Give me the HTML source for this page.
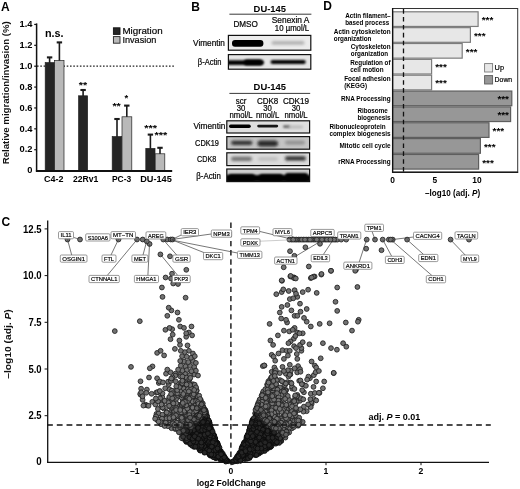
<!DOCTYPE html>
<html lang="en">
<head>
<meta charset="utf-8">
<title>Figure</title>
<style>
html,body{margin:0;padding:0;background:#fff;}
body{width:520px;height:489px;overflow:hidden;}
svg{display:block;font-family:"Liberation Sans", sans-serif;}
</style>
</head>
<body>
<svg width="520" height="489" viewBox="0 0 520 489">
<rect x="0" y="0" width="520" height="489" fill="#fff"/>
<g id="panelA">
<text x="1.0" y="10.7" font-size="12" font-weight="700">A</text>
<text transform="translate(8.9,92.8) rotate(-90)" font-size="9.6" font-weight="700" text-anchor="middle" textLength="143" lengthAdjust="spacingAndGlyphs" fill="#111">Relative migration/invasion (%)</text>
<line x1="37" y1="66.1" x2="175.5" y2="66.1" stroke="#222" stroke-width="1.1" stroke-dasharray="1.6 1.7"/>
<line x1="49.6" y1="63" x2="49.6" y2="57" stroke="#1a1a1a" stroke-width="1.6"/>
<line x1="46.9" y1="57.4" x2="52.300000000000004" y2="57.4" stroke="#1a1a1a" stroke-width="2.1"/>
<line x1="59.4" y1="61" x2="59.4" y2="42" stroke="#1a1a1a" stroke-width="1.6"/>
<line x1="56.699999999999996" y1="42.4" x2="62.1" y2="42.4" stroke="#1a1a1a" stroke-width="2.1"/>
<rect x="45.20" y="62.60" width="9.20" height="108.50" fill="#252525" stroke="#222" stroke-width="0.7"/>
<rect x="54.60" y="60.60" width="9.40" height="110.50" fill="#b9b9b9" stroke="#222" stroke-width="0.7"/>
<line x1="83.1" y1="96" x2="83.1" y2="89.6" stroke="#1a1a1a" stroke-width="1.6"/>
<line x1="80.39999999999999" y1="90.0" x2="85.8" y2="90.0" stroke="#1a1a1a" stroke-width="2.1"/>
<rect x="78.60" y="95.80" width="9.00" height="75.30" fill="#252525" stroke="#222" stroke-width="0.7"/>
<line x1="117.0" y1="137" x2="117.0" y2="118.6" stroke="#1a1a1a" stroke-width="1.6"/>
<line x1="114.3" y1="119.0" x2="119.7" y2="119.0" stroke="#1a1a1a" stroke-width="2.1"/>
<line x1="126.8" y1="117" x2="126.8" y2="105.2" stroke="#1a1a1a" stroke-width="1.6"/>
<line x1="124.1" y1="105.60000000000001" x2="129.5" y2="105.60000000000001" stroke="#1a1a1a" stroke-width="2.1"/>
<rect x="112.20" y="136.60" width="9.60" height="34.50" fill="#252525" stroke="#222" stroke-width="0.7"/>
<rect x="122.00" y="116.80" width="9.80" height="54.30" fill="#b9b9b9" stroke="#222" stroke-width="0.7"/>
<line x1="150.4" y1="149" x2="150.4" y2="134.2" stroke="#1a1a1a" stroke-width="1.6"/>
<line x1="147.70000000000002" y1="134.6" x2="153.1" y2="134.6" stroke="#1a1a1a" stroke-width="2.1"/>
<line x1="160.0" y1="154" x2="160.0" y2="147.4" stroke="#1a1a1a" stroke-width="1.6"/>
<line x1="157.3" y1="147.8" x2="162.7" y2="147.8" stroke="#1a1a1a" stroke-width="2.1"/>
<rect x="145.80" y="148.40" width="9.20" height="22.70" fill="#252525" stroke="#222" stroke-width="0.7"/>
<rect x="155.20" y="153.80" width="9.60" height="17.30" fill="#b9b9b9" stroke="#222" stroke-width="0.7"/>
<line x1="36.6" y1="23.4" x2="36.6" y2="171.6" stroke="#111" stroke-width="1.5"/>
<line x1="35.9" y1="171.0" x2="172.2" y2="171.0" stroke="#111" stroke-width="1.9"/>
<text x="32.5" y="173.3" font-size="9.3" font-weight="700" text-anchor="end">0</text>
<line x1="34.2" y1="149.72" x2="36.6" y2="149.72" stroke="#111" stroke-width="1.2"/>
<text x="32.5" y="152.42" font-size="9.3" font-weight="700" text-anchor="end">0.2</text>
<line x1="34.2" y1="128.84" x2="36.6" y2="128.84" stroke="#111" stroke-width="1.2"/>
<text x="32.5" y="131.54" font-size="9.3" font-weight="700" text-anchor="end">0.4</text>
<line x1="34.2" y1="107.95999999999998" x2="36.6" y2="107.95999999999998" stroke="#111" stroke-width="1.2"/>
<text x="32.5" y="110.66" font-size="9.3" font-weight="700" text-anchor="end">0.6</text>
<line x1="34.2" y1="87.08" x2="36.6" y2="87.08" stroke="#111" stroke-width="1.2"/>
<text x="32.5" y="89.78" font-size="9.3" font-weight="700" text-anchor="end">0.8</text>
<line x1="34.2" y1="66.2" x2="36.6" y2="66.2" stroke="#111" stroke-width="1.2"/>
<text x="32.5" y="68.9" font-size="9.3" font-weight="700" text-anchor="end">1.0</text>
<line x1="34.2" y1="45.31999999999998" x2="36.6" y2="45.31999999999998" stroke="#111" stroke-width="1.2"/>
<text x="32.5" y="48.02" font-size="9.3" font-weight="700" text-anchor="end">1.2</text>
<line x1="34.2" y1="24.439999999999998" x2="36.6" y2="24.439999999999998" stroke="#111" stroke-width="1.2"/>
<text x="32.5" y="27.14" font-size="9.3" font-weight="700" text-anchor="end">1.4</text>
<text x="54.2" y="36.6" font-size="10" font-weight="700" text-anchor="middle" textLength="18.6" lengthAdjust="spacingAndGlyphs">n.s.</text>
<text x="83.0" y="87.6" font-size="9.5" font-weight="700" text-anchor="middle" textLength="8.4" lengthAdjust="spacingAndGlyphs">**</text>
<text x="116.6" y="109.2" font-size="9.5" font-weight="700" text-anchor="middle" textLength="8.4" lengthAdjust="spacingAndGlyphs">**</text>
<text x="126.4" y="100.6" font-size="9.5" font-weight="700" text-anchor="middle">*</text>
<text x="150.6" y="131.4" font-size="9.5" font-weight="700" text-anchor="middle" textLength="12.8" lengthAdjust="spacingAndGlyphs">***</text>
<text x="161.0" y="138.4" font-size="9.5" font-weight="700" text-anchor="middle" textLength="12.8" lengthAdjust="spacingAndGlyphs">***</text>
<text x="53.8" y="182.2" font-size="9.2" font-weight="700" text-anchor="middle" textLength="19.4" lengthAdjust="spacingAndGlyphs">C4-2</text>
<text x="85.6" y="182.2" font-size="9.2" font-weight="700" text-anchor="middle" textLength="25.4" lengthAdjust="spacingAndGlyphs">22Rv1</text>
<text x="121.6" y="182.2" font-size="9.2" font-weight="700" text-anchor="middle" textLength="19.4" lengthAdjust="spacingAndGlyphs">PC-3</text>
<text x="156.0" y="182.2" font-size="9.2" font-weight="700" text-anchor="middle" textLength="31.6" lengthAdjust="spacingAndGlyphs">DU-145</text>
<rect x="113.40" y="27.80" width="6.60" height="6.60" fill="#252525" stroke="#111" stroke-width="0.9"/>
<rect x="113.40" y="36.60" width="6.60" height="6.60" fill="#b9b9b9" stroke="#222" stroke-width="0.9"/>
<text x="122.4" y="34.4" font-size="9.8" textLength="40.2" lengthAdjust="spacingAndGlyphs" stroke="#111" stroke-width="0.2">Migration</text>
<text x="122.4" y="43.2" font-size="9.8" textLength="34" lengthAdjust="spacingAndGlyphs" stroke="#111" stroke-width="0.2">Invasion</text>
</g>
<g id="panelB">
<defs><filter id="bl0" x="-20%" y="-80%" width="140%" height="260%"><feGaussianBlur stdDeviation="0.7"/></filter><filter id="bl1" x="-20%" y="-80%" width="140%" height="260%"><feGaussianBlur stdDeviation="0.9"/></filter><filter id="bl2" x="-20%" y="-80%" width="140%" height="260%"><feGaussianBlur stdDeviation="1.4"/></filter></defs>
<text x="191.3" y="11.3" font-size="12" font-weight="700">B</text>
<text x="269.8" y="12.2" font-size="9.4" font-weight="700" text-anchor="middle" textLength="32.4" lengthAdjust="spacingAndGlyphs">DU-145</text>
<line x1="229.4" y1="14.2" x2="311.4" y2="14.2" stroke="#222" stroke-width="0.9"/>
<text x="245.6" y="27.2" font-size="8.2" text-anchor="middle" textLength="24.4" lengthAdjust="spacingAndGlyphs" stroke="#111" stroke-width="0.22">DMSO</text>
<text x="290.6" y="22.8" font-size="8.2" text-anchor="middle" textLength="37.6" lengthAdjust="spacingAndGlyphs" stroke="#111" stroke-width="0.22">Senexin A</text>
<text x="292.0" y="31.0" font-size="8.2" text-anchor="middle" textLength="34.4" lengthAdjust="spacingAndGlyphs" stroke="#111" stroke-width="0.22">10 µmol/L</text>
<text x="209.0" y="46.4" font-size="8.2" text-anchor="middle" textLength="31.8" lengthAdjust="spacingAndGlyphs" stroke="#111" stroke-width="0.22">Vimentin</text>
<text x="209.6" y="65.0" font-size="8.2" text-anchor="middle" textLength="23.6" lengthAdjust="spacingAndGlyphs" stroke="#111" stroke-width="0.22">β-Actin</text>
<clipPath id="bc1"><rect x="228.4" y="35.4" width="82.40" height="14.80"/></clipPath>
<rect x="228.40" y="35.40" width="82.40" height="14.80" fill="#ececec"/>
<g clip-path="url(#bc1)">
<rect x="232.0" y="39.90" width="31.40" height="6.8" rx="3.00" fill="#060606" filter="url(#bl0)"/>
<rect x="271.5" y="41.20" width="33.00" height="3.4" rx="1.70" fill="#a8a8a8" filter="url(#bl2)"/>
</g>
<rect x="228.40" y="35.40" width="82.40" height="14.80" fill="none" stroke="#111" stroke-width="1.2"/>
<clipPath id="bc2"><rect x="228.4" y="54.6" width="82.40" height="14.60"/></clipPath>
<rect x="228.40" y="54.60" width="82.40" height="14.60" fill="#e6e6e6"/>
<g clip-path="url(#bc2)">
<rect x="226.0" y="60.30" width="38.00" height="4.6" rx="2.30" fill="#060606" filter="url(#bl1)"/>
<rect x="244.0" y="59.60" width="18.50" height="5.6" rx="2.80" fill="#060606" filter="url(#bl1)"/>
<rect x="270.5" y="59.90" width="35.30" height="4.2" rx="2.10" fill="#030303" filter="url(#bl1)"/>
</g>
<rect x="228.40" y="54.60" width="82.40" height="14.60" fill="none" stroke="#111" stroke-width="1.2"/>
<text x="269.8" y="89.8" font-size="9.4" font-weight="700" text-anchor="middle" textLength="32.4" lengthAdjust="spacingAndGlyphs">DU-145</text>
<line x1="229.4" y1="93.4" x2="310.2" y2="93.4" stroke="#222" stroke-width="0.9"/>
<text x="241.0" y="103.6" font-size="8.2" text-anchor="middle" textLength="10.6" lengthAdjust="spacingAndGlyphs" stroke="#111" stroke-width="0.22">scr</text>
<text x="241.0" y="110.9" font-size="8.2" text-anchor="middle" textLength="8.6" lengthAdjust="spacingAndGlyphs" stroke="#111" stroke-width="0.22">30</text>
<text x="241.0" y="118.0" font-size="8.2" text-anchor="middle" textLength="23.2" lengthAdjust="spacingAndGlyphs" stroke="#111" stroke-width="0.22">nmol/L</text>
<text x="267.6" y="103.6" font-size="8.2" text-anchor="middle" textLength="21.4" lengthAdjust="spacingAndGlyphs" stroke="#111" stroke-width="0.22">CDK8</text>
<text x="267.6" y="110.9" font-size="8.2" text-anchor="middle" textLength="8.6" lengthAdjust="spacingAndGlyphs" stroke="#111" stroke-width="0.22">30</text>
<text x="267.6" y="118.0" font-size="8.2" text-anchor="middle" textLength="23.2" lengthAdjust="spacingAndGlyphs" stroke="#111" stroke-width="0.22">nmol/L</text>
<text x="296.0" y="103.6" font-size="8.2" text-anchor="middle" textLength="26.2" lengthAdjust="spacingAndGlyphs" stroke="#111" stroke-width="0.22">CDK19</text>
<text x="296.0" y="110.9" font-size="8.2" text-anchor="middle" textLength="8.6" lengthAdjust="spacingAndGlyphs" stroke="#111" stroke-width="0.22">30</text>
<text x="296.0" y="118.0" font-size="8.2" text-anchor="middle" textLength="23.2" lengthAdjust="spacingAndGlyphs" stroke="#111" stroke-width="0.22">nmol/L</text>
<text x="209.4" y="129.4" font-size="8.2" text-anchor="middle" textLength="32.0" lengthAdjust="spacingAndGlyphs" stroke="#111" stroke-width="0.22">Vimentin</text>
<text x="207.0" y="145.6" font-size="8.2" text-anchor="middle" textLength="23.8" lengthAdjust="spacingAndGlyphs" stroke="#111" stroke-width="0.22">CDK19</text>
<text x="206.6" y="161.8" font-size="8.2" text-anchor="middle" textLength="19.2" lengthAdjust="spacingAndGlyphs" stroke="#111" stroke-width="0.22">CDK8</text>
<text x="208.6" y="178.6" font-size="8.2" text-anchor="middle" textLength="24.6" lengthAdjust="spacingAndGlyphs" stroke="#111" stroke-width="0.22">β-Actin</text>
<clipPath id="bc3"><rect x="226.8" y="120.8" width="82.80" height="12.20"/></clipPath>
<rect x="226.80" y="120.80" width="82.80" height="12.20" fill="#dedede"/>
<g clip-path="url(#bc3)">
<rect x="229.0" y="124.50" width="21.80" height="3.4" rx="1.70" fill="#050505" filter="url(#bl0)"/>
<rect x="257.2" y="124.65" width="21.00" height="2.9" rx="1.45" fill="#151515" filter="url(#bl0)"/>
<rect x="283.0" y="125.30" width="7.00" height="2.6" rx="1.30" fill="#666" filter="url(#bl1)"/>
<rect x="288.0" y="125.90" width="15.00" height="2.2" rx="1.10" fill="#aaa" filter="url(#bl2)"/>
</g>
<rect x="226.80" y="120.80" width="82.80" height="12.20" fill="none" stroke="#111" stroke-width="1.2"/>
<clipPath id="bc4"><rect x="226.8" y="136.6" width="82.80" height="12.60"/></clipPath>
<rect x="226.80" y="136.60" width="82.80" height="12.60" fill="#c4c4c4"/>
<g clip-path="url(#bc4)">
<rect x="231.0" y="140.70" width="21.50" height="4.2" rx="2.10" fill="#2b2b2b" filter="url(#bl2)"/>
<rect x="257.4" y="140.40" width="20.60" height="6.0" rx="3.00" fill="#262626" filter="url(#bl2)"/>
<rect x="285.0" y="140.80" width="20.00" height="3.6" rx="1.80" fill="#8e8e8e" filter="url(#bl2)"/>
</g>
<rect x="226.80" y="136.60" width="82.80" height="12.60" fill="none" stroke="#111" stroke-width="1.2"/>
<clipPath id="bc5"><rect x="226.8" y="152.8" width="82.80" height="12.80"/></clipPath>
<rect x="226.80" y="152.80" width="82.80" height="12.80" fill="#dcdcdc"/>
<g clip-path="url(#bc5)">
<rect x="231.0" y="156.80" width="21.00" height="4.2" rx="2.10" fill="#6e6e6e" filter="url(#bl2)"/>
<rect x="258.0" y="157.20" width="20.00" height="3.6" rx="1.80" fill="#bcbcbc" filter="url(#bl2)"/>
<rect x="285.0" y="156.20" width="21.00" height="4.4" rx="2.20" fill="#2c2c2c" filter="url(#bl2)"/>
</g>
<rect x="226.80" y="152.80" width="82.80" height="12.80" fill="none" stroke="#111" stroke-width="1.2"/>
<clipPath id="bc6"><rect x="226.8" y="169.0" width="82.80" height="12.60"/></clipPath>
<rect x="226.80" y="169.00" width="82.80" height="12.60" fill="#cdcdcd"/>
<g clip-path="url(#bc6)">
<rect x="222.0" y="175.10" width="92.00" height="7.0" rx="3.00" fill="#060606" filter="url(#bl1)"/>
<rect x="228.0" y="174.00" width="27.00" height="7.6" rx="3.00" fill="#060606" filter="url(#bl1)"/>
<rect x="259.0" y="174.00" width="24.00" height="7.6" rx="3.00" fill="#060606" filter="url(#bl1)"/>
<rect x="285.0" y="172.90" width="23.00" height="8.6" rx="3.00" fill="#060606" filter="url(#bl1)"/>
</g>
<rect x="226.80" y="169.00" width="82.80" height="12.60" fill="none" stroke="#111" stroke-width="1.2"/>
</g>
<g id="panelD">
<text x="323.3" y="10.3" font-size="12" font-weight="700">D</text>
<rect x="392.60" y="11.80" width="85.50" height="14.65" fill="#e7e7e7" stroke="#7c7c7c" stroke-width="1.2"/>
<text x="481.7" y="22.8" font-size="9.2" font-weight="700" textLength="11.6" lengthAdjust="spacingAndGlyphs">***</text>
<rect x="392.60" y="27.65" width="77.80" height="14.65" fill="#e7e7e7" stroke="#7c7c7c" stroke-width="1.2"/>
<text x="474.0" y="38.7" font-size="9.2" font-weight="700" textLength="11.6" lengthAdjust="spacingAndGlyphs">***</text>
<rect x="392.60" y="43.50" width="69.60" height="14.65" fill="#e7e7e7" stroke="#7c7c7c" stroke-width="1.2"/>
<text x="465.8" y="54.5" font-size="9.2" font-weight="700" textLength="11.6" lengthAdjust="spacingAndGlyphs">***</text>
<rect x="392.60" y="59.35" width="39.00" height="14.65" fill="#e7e7e7" stroke="#7c7c7c" stroke-width="1.2"/>
<text x="435.2" y="70.4" font-size="9.2" font-weight="700" textLength="11.6" lengthAdjust="spacingAndGlyphs">***</text>
<rect x="392.60" y="75.20" width="39.00" height="14.65" fill="#e7e7e7" stroke="#7c7c7c" stroke-width="1.2"/>
<text x="435.2" y="86.2" font-size="9.2" font-weight="700" textLength="11.6" lengthAdjust="spacingAndGlyphs">***</text>
<rect x="392.60" y="91.05" width="119.20" height="14.65" fill="#979797" stroke="#5e5e5e" stroke-width="1.2"/>
<text x="497.4" y="102.1" font-size="9.2" font-weight="700" textLength="11.6" lengthAdjust="spacingAndGlyphs">***</text>
<rect x="392.60" y="106.90" width="118.00" height="14.65" fill="#979797" stroke="#5e5e5e" stroke-width="1.2"/>
<text x="497.4" y="117.9" font-size="9.2" font-weight="700" textLength="11.6" lengthAdjust="spacingAndGlyphs">***</text>
<rect x="392.60" y="122.75" width="96.40" height="14.65" fill="#979797" stroke="#5e5e5e" stroke-width="1.2"/>
<text x="492.6" y="133.8" font-size="9.2" font-weight="700" textLength="11.6" lengthAdjust="spacingAndGlyphs">***</text>
<rect x="392.60" y="138.60" width="87.80" height="14.65" fill="#979797" stroke="#5e5e5e" stroke-width="1.2"/>
<text x="484.0" y="149.6" font-size="9.2" font-weight="700" textLength="11.6" lengthAdjust="spacingAndGlyphs">***</text>
<rect x="392.60" y="154.45" width="86.00" height="14.65" fill="#979797" stroke="#5e5e5e" stroke-width="1.2"/>
<text x="482.2" y="165.5" font-size="9.2" font-weight="700" textLength="11.6" lengthAdjust="spacingAndGlyphs">***</text>
<line x1="403.5" y1="9.1" x2="403.5" y2="172.0" stroke="#111" stroke-width="1.3" stroke-dasharray="4.6 3.3"/>
<rect x="392.60" y="8.50" width="125.10" height="163.50" fill="none" stroke="#333" stroke-width="1.0"/>
<line x1="392.6" y1="8.0" x2="392.6" y2="172.9" stroke="#111" stroke-width="1.3"/>
<line x1="392.0" y1="172.4" x2="518.2" y2="172.4" stroke="#1a1a1a" stroke-width="1.2"/>
<text x="392.6" y="183.4" font-size="8.4" font-weight="700" text-anchor="middle">0</text>
<text x="434.8" y="183.4" font-size="8.4" font-weight="700" text-anchor="middle">5</text>
<text x="476.9" y="183.4" font-size="8.4" font-weight="700" text-anchor="middle">10</text>
<text x="452.6" y="195.6" font-size="8.2" font-weight="700" text-anchor="middle" textLength="55" lengthAdjust="spacingAndGlyphs">–log10 (adj. <tspan font-style="italic">P</tspan>)</text>
<rect x="484.60" y="63.60" width="8.00" height="8.40" fill="#e7e7e7" stroke="#7a7a7a" stroke-width="0.9"/>
<rect x="484.60" y="75.60" width="8.00" height="8.40" fill="#979797" stroke="#5c5c5c" stroke-width="0.9"/>
<text x="494.6" y="69.9" font-size="7.4" fill="#000" stroke="#000" stroke-width="0.2">Up</text>
<text x="494.6" y="81.9" font-size="7.4" textLength="17.6" lengthAdjust="spacingAndGlyphs" fill="#000" stroke="#000" stroke-width="0.2">Down</text>
<text x="345.2" y="17.7" font-size="7.4" font-weight="700" textLength="45.4" lengthAdjust="spacingAndGlyphs">Actin filament–</text>
<text x="345.2" y="24.6" font-size="7.4" font-weight="700" textLength="44.0" lengthAdjust="spacingAndGlyphs">based process</text>
<text x="333.8" y="33.6" font-size="7.4" font-weight="700" textLength="56.8" lengthAdjust="spacingAndGlyphs">Actin cytoskeleton</text>
<text x="333.8" y="40.5" font-size="7.4" font-weight="700" textLength="37.6" lengthAdjust="spacingAndGlyphs">organization</text>
<text x="350.8" y="49.4" font-size="7.4" font-weight="700" textLength="39.8" lengthAdjust="spacingAndGlyphs">Cytoskeleton</text>
<text x="350.8" y="56.3" font-size="7.4" font-weight="700" textLength="37.4" lengthAdjust="spacingAndGlyphs">organization</text>
<text x="350.2" y="65.3" font-size="7.4" font-weight="700" textLength="40.4" lengthAdjust="spacingAndGlyphs">Regulation of</text>
<text x="350.2" y="72.2" font-size="7.4" font-weight="700" textLength="33.4" lengthAdjust="spacingAndGlyphs">cell motion</text>
<text x="344.2" y="81.1" font-size="7.4" font-weight="700" textLength="46.4" lengthAdjust="spacingAndGlyphs">Focal adhesion</text>
<text x="344.2" y="88.0" font-size="7.4" font-weight="700" textLength="22.8" lengthAdjust="spacingAndGlyphs">(KEGG)</text>
<text x="341.0" y="100.7" font-size="7.4" font-weight="700" textLength="49.6" lengthAdjust="spacingAndGlyphs">RNA Processing</text>
<text x="357.4" y="112.8" font-size="7.4" font-weight="700" textLength="30.4" lengthAdjust="spacingAndGlyphs">Ribosome</text>
<text x="357.4" y="119.7" font-size="7.4" font-weight="700" textLength="33.2" lengthAdjust="spacingAndGlyphs">biogenesis</text>
<text x="329.4" y="128.7" font-size="7.4" font-weight="700" textLength="56.2" lengthAdjust="spacingAndGlyphs">Ribonucleoprotein</text>
<text x="329.4" y="135.6" font-size="7.4" font-weight="700" textLength="61.2" lengthAdjust="spacingAndGlyphs">complex biogenesis</text>
<text x="339.4" y="148.2" font-size="7.4" font-weight="700" textLength="51.2" lengthAdjust="spacingAndGlyphs">Mitotic cell cycle</text>
<text x="338.2" y="164.1" font-size="7.4" font-weight="700" textLength="52.4" lengthAdjust="spacingAndGlyphs">rRNA Processing</text>
</g>
<g id="panelC">
<text x="1.5" y="226.4" font-size="12" font-weight="700">C</text>
<path d="M232.5 462.4 L244.7 460.4 L249.7 458.4 L253.6 456.4 L256.8 454.4 L259.7 452.4 L262.3 450.4 L264.7 448.4 L266.9 446.4 L269.0 444.4 L271.0 442.4 L272.9 440.4 L274.7 438.4 L276.4 436.4 L278.0 434.4 L279.6 432.4 L281.2 430.4 L282.7 428.4 L250.3 428.4 L249.6 430.4 L248.9 432.4 L248.1 434.4 L247.4 436.4 L246.6 438.4 L245.8 440.4 L244.9 442.4 L244.1 444.4 L243.2 446.4 L242.2 448.4 L241.2 450.4 L240.2 452.4 L239.0 454.4 L237.8 456.4 L236.4 458.4 L234.6 460.4 L231.5 462.4 Z" fill="#222"/>
<path d="M229.5 462.4 L217.8 460.4 L212.9 458.4 L209.2 456.4 L206.0 454.4 L203.2 452.4 L200.7 450.4 L198.4 448.4 L196.3 446.4 L194.3 444.4 L192.4 442.4 L190.5 440.4 L188.8 438.4 L187.2 436.4 L185.6 434.4 L184.0 432.4 L215.6 432.4 L216.2 434.4 L216.9 436.4 L217.6 438.4 L218.3 440.4 L219.0 442.4 L219.7 444.4 L220.5 446.4 L221.3 448.4 L222.2 450.4 L223.1 452.4 L224.0 454.4 L225.1 456.4 L226.3 458.4 L227.8 460.4 L230.5 462.4 Z" fill="#222"/>
<g fill="#262626" stroke="#0c0c0c" stroke-width="0.9"><circle cx="211.1" cy="445.0" r="2.4"/><circle cx="195.9" cy="440.8" r="2.4"/><circle cx="208.1" cy="428.2" r="2.4"/><circle cx="245.3" cy="458.7" r="2.4"/><circle cx="254.5" cy="423.8" r="2.4"/><circle cx="252.1" cy="424.0" r="2.4"/><circle cx="257.8" cy="432.2" r="2.4"/><circle cx="208.1" cy="431.1" r="2.4"/><circle cx="215.5" cy="440.9" r="2.4"/><circle cx="242.4" cy="446.5" r="2.4"/><circle cx="203.7" cy="437.5" r="2.4"/><circle cx="207.7" cy="446.5" r="2.4"/><circle cx="242.8" cy="448.7" r="2.4"/><circle cx="241.4" cy="454.3" r="2.4"/><circle cx="257.0" cy="433.5" r="2.4"/><circle cx="252.0" cy="443.2" r="2.4"/><circle cx="258.9" cy="435.5" r="2.4"/><circle cx="217.4" cy="443.0" r="2.4"/><circle cx="200.0" cy="449.3" r="2.4"/><circle cx="252.5" cy="452.2" r="2.4"/><circle cx="236.8" cy="458.7" r="2.4"/><circle cx="261.6" cy="449.0" r="2.4"/><circle cx="206.3" cy="438.1" r="2.4"/><circle cx="262.1" cy="439.2" r="2.4"/><circle cx="203.1" cy="423.8" r="2.4"/><circle cx="255.2" cy="445.7" r="2.4"/><circle cx="215.4" cy="440.4" r="2.4"/><circle cx="195.8" cy="444.7" r="2.4"/><circle cx="196.1" cy="434.3" r="2.4"/><circle cx="220.2" cy="452.8" r="2.4"/><circle cx="260.2" cy="421.2" r="2.4"/><circle cx="251.6" cy="444.4" r="2.4"/><circle cx="269.0" cy="432.2" r="2.4"/><circle cx="210.4" cy="426.0" r="2.4"/><circle cx="202.6" cy="425.6" r="2.4"/><circle cx="214.9" cy="438.2" r="2.4"/><circle cx="263.3" cy="450.3" r="2.4"/><circle cx="243.8" cy="444.2" r="2.4"/><circle cx="209.9" cy="426.3" r="2.4"/><circle cx="262.0" cy="437.1" r="2.4"/></g>
<g fill="#383838" stroke="#131313" stroke-width="0.9"><circle cx="200.4" cy="417.9" r="2.4"/><circle cx="272.9" cy="427.5" r="2.4"/><circle cx="183.7" cy="435.6" r="2.4"/><circle cx="206.7" cy="416.0" r="2.4"/><circle cx="257.4" cy="414.5" r="2.4"/><circle cx="184.7" cy="431.5" r="2.4"/><circle cx="273.8" cy="427.8" r="2.4"/><circle cx="190.2" cy="444.3" r="2.4"/><circle cx="187.5" cy="431.5" r="2.4"/><circle cx="262.4" cy="426.4" r="2.4"/><circle cx="257.5" cy="419.6" r="2.4"/><circle cx="199.5" cy="420.8" r="2.4"/><circle cx="256.3" cy="415.1" r="2.4"/><circle cx="185.9" cy="438.3" r="2.4"/><circle cx="262.5" cy="418.7" r="2.4"/><circle cx="281.7" cy="436.8" r="2.4"/><circle cx="196.9" cy="423.0" r="2.4"/><circle cx="255.1" cy="417.7" r="2.4"/><circle cx="188.5" cy="429.2" r="2.4"/><circle cx="196.8" cy="420.2" r="2.4"/><circle cx="199.1" cy="419.8" r="2.4"/><circle cx="277.5" cy="434.9" r="2.4"/><circle cx="280.5" cy="438.8" r="2.4"/><circle cx="270.5" cy="428.8" r="2.4"/><circle cx="192.5" cy="433.7" r="2.4"/><circle cx="266.0" cy="423.3" r="2.4"/><circle cx="184.6" cy="433.3" r="2.4"/><circle cx="192.6" cy="431.0" r="2.4"/><circle cx="186.7" cy="440.6" r="2.4"/><circle cx="202.5" cy="417.7" r="2.4"/><circle cx="192.5" cy="428.5" r="2.4"/><circle cx="184.0" cy="434.6" r="2.4"/><circle cx="203.7" cy="416.5" r="2.4"/><circle cx="264.8" cy="426.2" r="2.4"/><circle cx="188.5" cy="435.1" r="2.4"/><circle cx="268.0" cy="426.9" r="2.4"/><circle cx="197.0" cy="421.7" r="2.4"/><circle cx="263.8" cy="419.9" r="2.4"/><circle cx="280.9" cy="437.3" r="2.4"/><circle cx="268.0" cy="425.7" r="2.4"/></g>
<g fill="#4c4c4c" stroke="#191919" stroke-width="0.9"><circle cx="265.9" cy="422.3" r="2.4"/><circle cx="268.3" cy="424.5" r="2.4"/><circle cx="186.5" cy="442.0" r="2.4"/><circle cx="183.0" cy="438.7" r="2.4"/><circle cx="189.2" cy="426.1" r="2.4"/><circle cx="261.9" cy="417.4" r="2.4"/><circle cx="258.1" cy="414.9" r="2.4"/><circle cx="204.7" cy="409.5" r="2.4"/><circle cx="200.4" cy="415.2" r="2.4"/><circle cx="275.6" cy="430.5" r="2.4"/><circle cx="257.5" cy="410.8" r="2.4"/><circle cx="201.2" cy="408.6" r="2.4"/><circle cx="261.0" cy="413.7" r="2.4"/><circle cx="264.8" cy="422.9" r="2.4"/><circle cx="191.6" cy="419.3" r="2.4"/><circle cx="281.8" cy="436.5" r="2.4"/><circle cx="258.4" cy="413.3" r="2.4"/><circle cx="198.9" cy="414.5" r="2.4"/><circle cx="185.7" cy="431.1" r="2.4"/><circle cx="182.2" cy="435.9" r="2.4"/><circle cx="261.5" cy="416.0" r="2.4"/><circle cx="261.1" cy="416.9" r="2.4"/><circle cx="203.4" cy="416.2" r="2.4"/><circle cx="262.5" cy="419.2" r="2.4"/><circle cx="257.0" cy="416.0" r="2.4"/><circle cx="197.2" cy="421.1" r="2.4"/><circle cx="204.0" cy="409.4" r="2.4"/><circle cx="202.5" cy="413.0" r="2.4"/><circle cx="257.0" cy="414.0" r="2.4"/><circle cx="192.7" cy="425.1" r="2.4"/><circle cx="255.1" cy="413.3" r="2.4"/><circle cx="202.1" cy="409.7" r="2.4"/><circle cx="203.9" cy="415.1" r="2.4"/><circle cx="259.6" cy="409.6" r="2.4"/><circle cx="261.7" cy="413.8" r="2.4"/><circle cx="261.3" cy="413.9" r="2.4"/><circle cx="201.0" cy="416.9" r="2.4"/><circle cx="262.3" cy="416.3" r="2.4"/><circle cx="200.4" cy="414.1" r="2.4"/><circle cx="183.7" cy="434.9" r="2.4"/></g>
<g fill="#727272" stroke="#242424" stroke-width="0.9"><circle cx="189.3" cy="380.0" r="2.4"/><circle cx="200.5" cy="407.9" r="2.4"/><circle cx="343.1" cy="343.2" r="2.4"/><circle cx="274.4" cy="367.5" r="2.4"/><circle cx="173.5" cy="404.2" r="2.4"/><circle cx="194.2" cy="374.5" r="2.4"/><circle cx="167.1" cy="239.5" r="2.4"/><circle cx="450.6" cy="239.6" r="2.4"/><circle cx="180.5" cy="382.9" r="2.4"/><circle cx="185.0" cy="418.0" r="2.4"/><circle cx="168.7" cy="384.2" r="2.4"/><circle cx="325.4" cy="239.6" r="2.4"/><circle cx="196.3" cy="402.3" r="2.4"/><circle cx="162.9" cy="402.7" r="2.4"/><circle cx="177.8" cy="412.8" r="2.4"/><circle cx="160.5" cy="419.2" r="2.4"/><circle cx="186.6" cy="418.3" r="2.4"/><circle cx="266.5" cy="401.9" r="2.4"/><circle cx="276.7" cy="424.4" r="2.4"/><circle cx="146.9" cy="389.6" r="2.4"/><circle cx="198.3" cy="406.3" r="2.4"/><circle cx="191.6" cy="409.2" r="2.4"/><circle cx="145.4" cy="404.7" r="2.4"/><circle cx="195.7" cy="398.2" r="2.4"/><circle cx="192.9" cy="384.2" r="2.4"/><circle cx="273.9" cy="406.3" r="2.4"/><circle cx="268.5" cy="417.4" r="2.4"/><circle cx="469.0" cy="239.6" r="2.4"/><circle cx="291.9" cy="428.4" r="2.4"/><circle cx="264.8" cy="412.0" r="2.4"/><circle cx="189.4" cy="386.4" r="2.4"/><circle cx="191.0" cy="417.6" r="2.4"/><circle cx="178.7" cy="404.7" r="2.4"/><circle cx="201.3" cy="403.5" r="2.4"/><circle cx="302.7" cy="421.9" r="2.4"/><circle cx="156.5" cy="400.9" r="2.4"/><circle cx="288.0" cy="420.9" r="2.4"/><circle cx="189.0" cy="388.0" r="2.4"/><circle cx="172.5" cy="423.7" r="2.4"/><circle cx="176.8" cy="409.7" r="2.4"/></g>
<g fill="#262626" stroke="#0c0c0c" stroke-width="0.9"><circle cx="211.7" cy="433.2" r="2.4"/><circle cx="211.1" cy="433.8" r="2.4"/><circle cx="251.7" cy="441.4" r="2.4"/><circle cx="249.8" cy="435.9" r="2.4"/><circle cx="246.0" cy="440.8" r="2.4"/><circle cx="237.7" cy="457.8" r="2.4"/><circle cx="253.2" cy="444.6" r="2.4"/><circle cx="216.9" cy="453.1" r="2.4"/><circle cx="243.7" cy="455.7" r="2.4"/><circle cx="224.2" cy="457.6" r="2.4"/><circle cx="248.3" cy="440.6" r="2.4"/><circle cx="209.7" cy="434.3" r="2.4"/><circle cx="249.9" cy="443.4" r="2.4"/><circle cx="270.5" cy="433.3" r="2.4"/><circle cx="207.2" cy="423.2" r="2.4"/><circle cx="272.9" cy="433.6" r="2.4"/><circle cx="214.7" cy="440.7" r="2.4"/><circle cx="249.4" cy="439.8" r="2.4"/><circle cx="207.8" cy="445.2" r="2.4"/><circle cx="267.4" cy="431.1" r="2.4"/><circle cx="256.8" cy="429.3" r="2.4"/><circle cx="238.9" cy="457.3" r="2.4"/><circle cx="212.2" cy="445.0" r="2.4"/><circle cx="254.0" cy="424.3" r="2.4"/><circle cx="218.1" cy="457.3" r="2.4"/><circle cx="270.0" cy="446.8" r="2.4"/><circle cx="208.6" cy="424.7" r="2.4"/><circle cx="254.5" cy="437.3" r="2.4"/><circle cx="252.4" cy="442.4" r="2.4"/><circle cx="197.3" cy="431.4" r="2.4"/><circle cx="206.9" cy="447.9" r="2.4"/><circle cx="224.6" cy="457.7" r="2.4"/><circle cx="193.3" cy="432.8" r="2.4"/><circle cx="249.6" cy="441.8" r="2.4"/><circle cx="249.3" cy="440.0" r="2.4"/><circle cx="270.4" cy="447.2" r="2.4"/><circle cx="251.2" cy="450.5" r="2.4"/><circle cx="207.5" cy="424.5" r="2.4"/><circle cx="199.6" cy="441.3" r="2.4"/><circle cx="207.4" cy="419.1" r="2.4"/></g>
<g fill="#262626" stroke="#0c0c0c" stroke-width="0.9"><circle cx="211.2" cy="436.2" r="2.4"/><circle cx="247.9" cy="435.1" r="2.4"/><circle cx="240.8" cy="453.5" r="2.4"/><circle cx="273.4" cy="434.1" r="2.4"/><circle cx="193.4" cy="427.7" r="2.4"/><circle cx="255.0" cy="430.3" r="2.4"/><circle cx="252.1" cy="437.4" r="2.4"/><circle cx="219.3" cy="453.4" r="2.4"/><circle cx="208.7" cy="449.2" r="2.4"/><circle cx="259.6" cy="423.3" r="2.4"/><circle cx="251.3" cy="425.3" r="2.4"/><circle cx="269.0" cy="446.5" r="2.4"/><circle cx="270.8" cy="432.5" r="2.4"/><circle cx="244.5" cy="443.1" r="2.4"/><circle cx="206.5" cy="414.8" r="2.4"/><circle cx="244.6" cy="459.0" r="2.4"/><circle cx="205.8" cy="428.3" r="2.4"/><circle cx="215.5" cy="451.4" r="2.4"/><circle cx="243.8" cy="450.2" r="2.4"/><circle cx="257.9" cy="422.8" r="2.4"/><circle cx="208.6" cy="451.0" r="2.4"/><circle cx="246.7" cy="446.5" r="2.4"/><circle cx="206.3" cy="451.1" r="2.4"/><circle cx="259.8" cy="449.7" r="2.4"/><circle cx="199.6" cy="449.8" r="2.4"/><circle cx="222.9" cy="459.9" r="2.4"/><circle cx="258.9" cy="453.7" r="2.4"/><circle cx="262.1" cy="427.4" r="2.4"/><circle cx="246.0" cy="446.2" r="2.4"/><circle cx="261.9" cy="437.6" r="2.4"/></g>
<g fill="#262626" stroke="#0c0c0c" stroke-width="0.9"><circle cx="271.4" cy="431.3" r="2.4"/><circle cx="206.3" cy="419.2" r="2.4"/><circle cx="240.5" cy="455.7" r="2.4"/><circle cx="245.5" cy="456.9" r="2.4"/><circle cx="251.5" cy="446.7" r="2.4"/><circle cx="252.5" cy="423.0" r="2.4"/><circle cx="217.3" cy="453.1" r="2.4"/><circle cx="201.9" cy="434.3" r="2.4"/><circle cx="253.5" cy="433.9" r="2.4"/><circle cx="254.9" cy="443.8" r="2.4"/><circle cx="223.5" cy="456.8" r="2.4"/><circle cx="270.7" cy="432.1" r="2.4"/><circle cx="193.4" cy="433.5" r="2.4"/><circle cx="271.6" cy="446.0" r="2.4"/><circle cx="218.4" cy="448.7" r="2.4"/><circle cx="214.2" cy="435.3" r="2.4"/><circle cx="213.5" cy="446.3" r="2.4"/><circle cx="200.5" cy="450.3" r="2.4"/><circle cx="212.5" cy="434.6" r="2.4"/><circle cx="250.1" cy="428.8" r="2.4"/><circle cx="209.0" cy="433.1" r="2.4"/><circle cx="194.3" cy="440.5" r="2.4"/><circle cx="216.1" cy="446.4" r="2.4"/><circle cx="256.8" cy="424.7" r="2.4"/><circle cx="212.3" cy="451.7" r="2.4"/><circle cx="247.9" cy="444.4" r="2.4"/><circle cx="190.7" cy="430.5" r="2.4"/><circle cx="246.6" cy="437.4" r="2.4"/><circle cx="198.0" cy="439.8" r="2.4"/><circle cx="252.3" cy="448.1" r="2.4"/><circle cx="260.2" cy="434.2" r="2.4"/><circle cx="254.6" cy="447.3" r="2.4"/><circle cx="247.9" cy="444.1" r="2.4"/><circle cx="206.2" cy="444.5" r="2.4"/><circle cx="261.2" cy="444.3" r="2.4"/><circle cx="263.7" cy="424.8" r="2.4"/><circle cx="249.7" cy="445.4" r="2.4"/><circle cx="267.0" cy="443.8" r="2.4"/><circle cx="208.1" cy="431.7" r="2.4"/><circle cx="213.1" cy="439.9" r="2.4"/></g>
<g fill="#727272" stroke="#242424" stroke-width="0.9"><circle cx="279.2" cy="403.2" r="2.4"/><circle cx="266.6" cy="412.4" r="2.4"/><circle cx="286.1" cy="414.8" r="2.4"/><circle cx="293.5" cy="425.3" r="2.4"/><circle cx="170.0" cy="256.3" r="2.4"/><circle cx="192.9" cy="400.5" r="2.4"/><circle cx="287.0" cy="404.9" r="2.4"/><circle cx="273.4" cy="372.2" r="2.4"/><circle cx="192.8" cy="412.6" r="2.4"/><circle cx="194.6" cy="394.8" r="2.4"/><circle cx="314.6" cy="276.5" r="2.4"/><circle cx="273.7" cy="401.9" r="2.4"/><circle cx="194.0" cy="407.4" r="2.4"/><circle cx="298.7" cy="410.1" r="2.4"/><circle cx="291.8" cy="418.4" r="2.4"/><circle cx="266.4" cy="402.8" r="2.4"/><circle cx="310.8" cy="393.7" r="2.4"/><circle cx="273.7" cy="420.8" r="2.4"/><circle cx="178.1" cy="406.2" r="2.4"/><circle cx="156.5" cy="413.9" r="2.4"/><circle cx="188.9" cy="332.5" r="2.4"/><circle cx="268.5" cy="416.4" r="2.4"/><circle cx="272.3" cy="405.5" r="2.4"/><circle cx="289.2" cy="427.9" r="2.4"/><circle cx="198.9" cy="405.5" r="2.4"/><circle cx="185.6" cy="366.4" r="2.4"/><circle cx="298.4" cy="239.6" r="2.4"/><circle cx="322.9" cy="388.3" r="2.4"/><circle cx="297.2" cy="372.4" r="2.4"/><circle cx="152.5" cy="366.4" r="2.4"/><circle cx="276.3" cy="413.1" r="2.4"/><circle cx="190.2" cy="365.9" r="2.4"/><circle cx="279.9" cy="400.7" r="2.4"/><circle cx="191.8" cy="408.5" r="2.4"/><circle cx="269.0" cy="394.5" r="2.4"/><circle cx="320.2" cy="239.6" r="2.4"/><circle cx="290.4" cy="374.4" r="2.4"/><circle cx="281.7" cy="292.1" r="2.4"/><circle cx="187.7" cy="395.6" r="2.4"/><circle cx="161.2" cy="406.7" r="2.4"/></g>
<g fill="#383838" stroke="#131313" stroke-width="0.9"><circle cx="205.5" cy="420.1" r="2.4"/><circle cx="204.0" cy="417.0" r="2.4"/><circle cx="262.2" cy="421.8" r="2.4"/><circle cx="259.9" cy="419.8" r="2.4"/><circle cx="205.6" cy="415.9" r="2.4"/><circle cx="256.5" cy="410.9" r="2.4"/><circle cx="200.6" cy="412.5" r="2.4"/><circle cx="205.2" cy="413.1" r="2.4"/><circle cx="197.1" cy="418.7" r="2.4"/><circle cx="195.2" cy="427.2" r="2.4"/><circle cx="270.4" cy="429.4" r="2.4"/><circle cx="204.3" cy="414.1" r="2.4"/></g>
<g fill="#727272" stroke="#242424" stroke-width="0.9"><circle cx="157.3" cy="420.2" r="2.4"/><circle cx="293.3" cy="403.5" r="2.4"/><circle cx="183.8" cy="379.9" r="2.4"/><circle cx="275.3" cy="406.0" r="2.4"/><circle cx="306.8" cy="239.6" r="2.4"/><circle cx="171.5" cy="408.9" r="2.4"/><circle cx="67.5" cy="239.5" r="2.4"/><circle cx="174.8" cy="423.8" r="2.4"/><circle cx="186.9" cy="400.9" r="2.4"/><circle cx="172.6" cy="425.5" r="2.4"/><circle cx="283.3" cy="289.4" r="2.4"/><circle cx="302.7" cy="333.3" r="2.4"/><circle cx="306.7" cy="411.2" r="2.4"/><circle cx="171.0" cy="420.6" r="2.4"/><circle cx="283.5" cy="412.3" r="2.4"/><circle cx="272.0" cy="406.5" r="2.4"/><circle cx="308.8" cy="266.5" r="2.4"/><circle cx="158.8" cy="383.0" r="2.4"/><circle cx="300.0" cy="303.7" r="2.4"/><circle cx="192.9" cy="361.0" r="2.4"/><circle cx="270.3" cy="407.1" r="2.4"/><circle cx="273.1" cy="398.1" r="2.4"/><circle cx="195.9" cy="388.1" r="2.4"/><circle cx="265.0" cy="397.0" r="2.4"/><circle cx="288.7" cy="291.0" r="2.4"/><circle cx="185.6" cy="389.6" r="2.4"/><circle cx="282.1" cy="406.2" r="2.4"/><circle cx="198.7" cy="406.2" r="2.4"/><circle cx="313.4" cy="239.6" r="2.4"/><circle cx="184.0" cy="410.3" r="2.4"/><circle cx="186.4" cy="412.7" r="2.4"/><circle cx="196.9" cy="414.7" r="2.4"/><circle cx="165.2" cy="388.3" r="2.4"/><circle cx="281.1" cy="391.0" r="2.4"/><circle cx="199.9" cy="406.3" r="2.4"/><circle cx="140.6" cy="394.7" r="2.4"/><circle cx="267.9" cy="388.1" r="2.4"/><circle cx="186.2" cy="391.4" r="2.4"/><circle cx="266.0" cy="412.6" r="2.4"/><circle cx="294.2" cy="277.5" r="2.4"/></g>
<g fill="#262626" stroke="#0c0c0c" stroke-width="0.9"><circle cx="241.4" cy="448.8" r="2.4"/><circle cx="209.5" cy="422.4" r="2.4"/><circle cx="257.1" cy="430.8" r="2.4"/><circle cx="251.3" cy="433.2" r="2.4"/><circle cx="275.8" cy="440.4" r="2.4"/><circle cx="193.9" cy="436.5" r="2.4"/><circle cx="228.3" cy="461.2" r="2.4"/><circle cx="207.9" cy="432.2" r="2.4"/><circle cx="214.8" cy="439.2" r="2.4"/><circle cx="216.1" cy="443.5" r="2.4"/><circle cx="206.6" cy="428.5" r="2.4"/><circle cx="209.2" cy="448.6" r="2.4"/><circle cx="214.4" cy="443.2" r="2.4"/><circle cx="254.7" cy="445.2" r="2.4"/><circle cx="257.1" cy="423.8" r="2.4"/><circle cx="211.9" cy="432.7" r="2.4"/><circle cx="206.4" cy="430.9" r="2.4"/><circle cx="248.5" cy="446.5" r="2.4"/><circle cx="256.4" cy="447.9" r="2.4"/><circle cx="259.6" cy="444.0" r="2.4"/><circle cx="213.0" cy="439.8" r="2.4"/><circle cx="217.3" cy="452.7" r="2.4"/><circle cx="247.0" cy="438.7" r="2.4"/><circle cx="210.2" cy="430.9" r="2.4"/><circle cx="263.5" cy="437.7" r="2.4"/><circle cx="255.1" cy="420.3" r="2.4"/><circle cx="201.6" cy="445.2" r="2.4"/><circle cx="269.9" cy="444.7" r="2.4"/><circle cx="254.4" cy="431.2" r="2.4"/><circle cx="248.0" cy="443.9" r="2.4"/><circle cx="270.5" cy="430.1" r="2.4"/><circle cx="199.0" cy="431.5" r="2.4"/><circle cx="214.2" cy="438.3" r="2.4"/><circle cx="209.2" cy="422.1" r="2.4"/><circle cx="273.6" cy="432.5" r="2.4"/><circle cx="253.9" cy="444.3" r="2.4"/><circle cx="206.0" cy="444.5" r="2.4"/><circle cx="253.6" cy="428.9" r="2.4"/><circle cx="248.1" cy="449.7" r="2.4"/><circle cx="217.1" cy="443.0" r="2.4"/></g>
<g fill="#262626" stroke="#0c0c0c" stroke-width="0.9"><circle cx="277.7" cy="439.7" r="2.4"/><circle cx="241.6" cy="450.4" r="2.4"/><circle cx="208.1" cy="421.2" r="2.4"/><circle cx="196.7" cy="446.0" r="2.4"/><circle cx="246.7" cy="441.2" r="2.4"/><circle cx="260.7" cy="450.2" r="2.4"/><circle cx="235.8" cy="460.3" r="2.4"/><circle cx="248.7" cy="440.9" r="2.4"/><circle cx="255.8" cy="421.8" r="2.4"/><circle cx="251.8" cy="428.1" r="2.4"/><circle cx="252.3" cy="423.5" r="2.4"/><circle cx="213.6" cy="436.5" r="2.4"/><circle cx="266.9" cy="446.5" r="2.4"/><circle cx="240.8" cy="455.0" r="2.4"/><circle cx="206.5" cy="421.3" r="2.4"/><circle cx="213.6" cy="448.1" r="2.4"/><circle cx="209.6" cy="435.4" r="2.4"/><circle cx="194.9" cy="435.5" r="2.4"/><circle cx="190.4" cy="432.2" r="2.4"/><circle cx="217.6" cy="443.5" r="2.4"/><circle cx="268.9" cy="428.4" r="2.4"/><circle cx="241.9" cy="450.8" r="2.4"/><circle cx="206.5" cy="423.8" r="2.4"/><circle cx="208.0" cy="436.1" r="2.4"/><circle cx="260.6" cy="441.6" r="2.4"/><circle cx="212.1" cy="439.0" r="2.4"/><circle cx="259.6" cy="433.3" r="2.4"/><circle cx="246.2" cy="452.4" r="2.4"/><circle cx="210.6" cy="454.8" r="2.4"/><circle cx="267.2" cy="429.1" r="2.4"/><circle cx="260.6" cy="425.2" r="2.4"/><circle cx="209.4" cy="434.5" r="2.4"/><circle cx="216.0" cy="457.8" r="2.4"/><circle cx="196.7" cy="434.8" r="2.4"/><circle cx="211.9" cy="454.3" r="2.4"/><circle cx="253.5" cy="448.6" r="2.4"/><circle cx="189.6" cy="432.8" r="2.4"/><circle cx="248.7" cy="453.3" r="2.4"/><circle cx="248.2" cy="452.1" r="2.4"/><circle cx="257.5" cy="430.9" r="2.4"/></g>
<g fill="#727272" stroke="#242424" stroke-width="0.9"><circle cx="152.3" cy="401.8" r="2.4"/><circle cx="263.3" cy="395.8" r="2.4"/><circle cx="188.2" cy="414.7" r="2.4"/><circle cx="276.9" cy="408.5" r="2.4"/><circle cx="168.7" cy="422.6" r="2.4"/><circle cx="118.5" cy="239.5" r="2.4"/><circle cx="197.8" cy="410.7" r="2.4"/><circle cx="169.4" cy="417.0" r="2.4"/><circle cx="312.1" cy="400.4" r="2.4"/><circle cx="407.1" cy="239.6" r="2.4"/><circle cx="186.2" cy="387.9" r="2.4"/><circle cx="264.3" cy="394.7" r="2.4"/><circle cx="264.2" cy="396.5" r="2.4"/><circle cx="290.8" cy="370.8" r="2.4"/><circle cx="189.0" cy="391.9" r="2.4"/><circle cx="272.4" cy="416.9" r="2.4"/><circle cx="191.9" cy="394.9" r="2.4"/><circle cx="272.8" cy="375.9" r="2.4"/><circle cx="171.5" cy="428.2" r="2.4"/><circle cx="184.2" cy="400.3" r="2.4"/><circle cx="279.3" cy="426.0" r="2.4"/><circle cx="293.5" cy="421.2" r="2.4"/><circle cx="182.6" cy="400.4" r="2.4"/><circle cx="198.3" cy="397.7" r="2.4"/><circle cx="273.9" cy="404.2" r="2.4"/><circle cx="282.4" cy="389.0" r="2.4"/><circle cx="189.5" cy="391.8" r="2.4"/><circle cx="275.9" cy="383.9" r="2.4"/><circle cx="271.7" cy="354.8" r="2.4"/><circle cx="277.7" cy="407.7" r="2.4"/><circle cx="278.2" cy="423.0" r="2.4"/><circle cx="172.1" cy="417.2" r="2.4"/><circle cx="163.6" cy="408.4" r="2.4"/><circle cx="303.9" cy="392.3" r="2.4"/><circle cx="182.8" cy="396.4" r="2.4"/><circle cx="284.8" cy="427.2" r="2.4"/><circle cx="260.6" cy="411.1" r="2.4"/><circle cx="190.9" cy="400.7" r="2.4"/><circle cx="303.4" cy="411.6" r="2.4"/><circle cx="274.7" cy="408.0" r="2.4"/></g>
<g fill="#727272" stroke="#242424" stroke-width="0.9"><circle cx="269.6" cy="386.7" r="2.4"/><circle cx="174.4" cy="421.3" r="2.4"/><circle cx="267.9" cy="397.4" r="2.4"/><circle cx="183.8" cy="408.2" r="2.4"/><circle cx="189.0" cy="399.0" r="2.4"/><circle cx="195.7" cy="404.0" r="2.4"/><circle cx="161.7" cy="399.6" r="2.4"/><circle cx="198.0" cy="396.5" r="2.4"/><circle cx="287.5" cy="409.5" r="2.4"/><circle cx="190.0" cy="392.2" r="2.4"/><circle cx="194.2" cy="366.9" r="2.4"/><circle cx="291.5" cy="239.6" r="2.4"/><circle cx="200.8" cy="400.0" r="2.4"/><circle cx="184.4" cy="386.6" r="2.4"/><circle cx="308.4" cy="239.6" r="2.4"/><circle cx="172.7" cy="334.6" r="2.4"/><circle cx="285.9" cy="419.0" r="2.4"/><circle cx="320.0" cy="243.8" r="2.4"/><circle cx="352.0" cy="330.6" r="2.4"/><circle cx="187.0" cy="419.0" r="2.4"/><circle cx="183.7" cy="423.8" r="2.4"/><circle cx="198.4" cy="408.6" r="2.4"/><circle cx="382.7" cy="239.6" r="2.4"/><circle cx="172.6" cy="396.9" r="2.4"/><circle cx="323.6" cy="239.6" r="2.4"/><circle cx="177.8" cy="427.7" r="2.4"/><circle cx="268.2" cy="407.9" r="2.4"/><circle cx="293.8" cy="338.7" r="2.4"/><circle cx="274.8" cy="409.0" r="2.4"/><circle cx="176.7" cy="409.8" r="2.4"/><circle cx="285.8" cy="373.7" r="2.4"/><circle cx="155.4" cy="404.5" r="2.4"/><circle cx="332.2" cy="239.6" r="2.4"/><circle cx="166.5" cy="407.2" r="2.4"/><circle cx="309.9" cy="378.2" r="2.4"/><circle cx="182.8" cy="402.4" r="2.4"/><circle cx="189.1" cy="386.0" r="2.4"/><circle cx="168.1" cy="381.7" r="2.4"/><circle cx="190.7" cy="399.1" r="2.4"/><circle cx="269.7" cy="404.8" r="2.4"/></g>
<g fill="#262626" stroke="#0c0c0c" stroke-width="0.9"><circle cx="238.2" cy="455.1" r="2.4"/><circle cx="251.3" cy="431.0" r="2.4"/><circle cx="255.6" cy="429.1" r="2.4"/><circle cx="197.0" cy="434.9" r="2.4"/><circle cx="209.3" cy="451.0" r="2.4"/><circle cx="205.8" cy="429.5" r="2.4"/><circle cx="266.5" cy="442.1" r="2.4"/><circle cx="251.6" cy="447.6" r="2.4"/><circle cx="259.1" cy="431.6" r="2.4"/><circle cx="216.3" cy="442.8" r="2.4"/><circle cx="216.4" cy="445.5" r="2.4"/><circle cx="220.8" cy="451.6" r="2.4"/><circle cx="251.5" cy="447.2" r="2.4"/><circle cx="261.1" cy="426.6" r="2.4"/><circle cx="211.2" cy="447.2" r="2.4"/><circle cx="269.2" cy="445.9" r="2.4"/><circle cx="244.3" cy="447.8" r="2.4"/><circle cx="248.0" cy="442.0" r="2.4"/><circle cx="256.2" cy="451.5" r="2.4"/><circle cx="256.3" cy="454.7" r="2.4"/><circle cx="215.6" cy="447.4" r="2.4"/><circle cx="242.3" cy="458.1" r="2.4"/><circle cx="275.9" cy="439.4" r="2.4"/><circle cx="219.3" cy="449.8" r="2.4"/><circle cx="208.6" cy="429.7" r="2.4"/><circle cx="247.0" cy="458.8" r="2.4"/><circle cx="200.2" cy="436.6" r="2.4"/><circle cx="205.1" cy="435.9" r="2.4"/><circle cx="215.7" cy="443.1" r="2.4"/><circle cx="203.3" cy="448.1" r="2.4"/><circle cx="258.6" cy="441.7" r="2.4"/><circle cx="199.3" cy="432.8" r="2.4"/><circle cx="273.2" cy="441.4" r="2.4"/><circle cx="256.7" cy="453.0" r="2.4"/><circle cx="206.8" cy="419.6" r="2.4"/><circle cx="204.6" cy="427.4" r="2.4"/><circle cx="211.7" cy="448.6" r="2.4"/><circle cx="257.9" cy="420.4" r="2.4"/><circle cx="196.1" cy="433.6" r="2.4"/><circle cx="251.8" cy="424.8" r="2.4"/></g>
<g fill="#4c4c4c" stroke="#191919" stroke-width="0.9"><circle cx="268.6" cy="421.6" r="2.4"/><circle cx="275.9" cy="429.4" r="2.4"/><circle cx="199.6" cy="420.7" r="2.4"/><circle cx="271.9" cy="426.4" r="2.4"/><circle cx="200.3" cy="418.6" r="2.4"/><circle cx="199.6" cy="416.9" r="2.4"/></g>
<g fill="#262626" stroke="#0c0c0c" stroke-width="0.9"><circle cx="210.5" cy="448.3" r="2.4"/><circle cx="205.7" cy="431.8" r="2.4"/><circle cx="220.9" cy="452.6" r="2.4"/><circle cx="251.8" cy="447.7" r="2.4"/><circle cx="209.3" cy="422.2" r="2.4"/><circle cx="250.0" cy="427.6" r="2.4"/><circle cx="238.2" cy="460.4" r="2.4"/><circle cx="244.7" cy="444.1" r="2.4"/><circle cx="200.3" cy="427.2" r="2.4"/><circle cx="267.2" cy="448.9" r="2.4"/><circle cx="205.2" cy="444.1" r="2.4"/><circle cx="257.9" cy="436.3" r="2.4"/><circle cx="259.1" cy="440.1" r="2.4"/><circle cx="200.7" cy="429.2" r="2.4"/><circle cx="252.6" cy="443.0" r="2.4"/><circle cx="216.7" cy="443.1" r="2.4"/><circle cx="214.8" cy="445.4" r="2.4"/><circle cx="241.5" cy="459.3" r="2.4"/><circle cx="210.6" cy="441.6" r="2.4"/><circle cx="208.4" cy="426.8" r="2.4"/><circle cx="250.1" cy="430.2" r="2.4"/><circle cx="196.0" cy="428.4" r="2.4"/><circle cx="220.3" cy="459.3" r="2.4"/><circle cx="215.2" cy="438.7" r="2.4"/><circle cx="203.3" cy="441.1" r="2.4"/><circle cx="254.9" cy="423.7" r="2.4"/><circle cx="270.9" cy="437.2" r="2.4"/><circle cx="206.9" cy="438.9" r="2.4"/><circle cx="212.9" cy="446.8" r="2.4"/><circle cx="204.6" cy="427.2" r="2.4"/><circle cx="197.2" cy="424.0" r="2.4"/><circle cx="204.6" cy="428.2" r="2.4"/><circle cx="199.5" cy="443.4" r="2.4"/><circle cx="202.9" cy="448.3" r="2.4"/><circle cx="202.0" cy="421.0" r="2.4"/><circle cx="212.0" cy="434.1" r="2.4"/><circle cx="252.0" cy="421.9" r="2.4"/><circle cx="213.4" cy="454.2" r="2.4"/><circle cx="237.0" cy="456.7" r="2.4"/><circle cx="245.5" cy="450.1" r="2.4"/></g>
<g fill="#727272" stroke="#242424" stroke-width="0.9"><circle cx="276.3" cy="391.1" r="2.4"/><circle cx="292.6" cy="420.1" r="2.4"/><circle cx="319.5" cy="392.9" r="2.4"/><circle cx="287.9" cy="355.6" r="2.4"/><circle cx="175.7" cy="381.4" r="2.4"/><circle cx="297.7" cy="396.3" r="2.4"/><circle cx="167.1" cy="400.3" r="2.4"/><circle cx="183.5" cy="406.2" r="2.4"/><circle cx="289.0" cy="399.7" r="2.4"/><circle cx="311.7" cy="403.9" r="2.4"/><circle cx="172.2" cy="329.2" r="2.4"/><circle cx="275.0" cy="422.2" r="2.4"/><circle cx="188.9" cy="350.8" r="2.4"/><circle cx="279.8" cy="419.3" r="2.4"/><circle cx="301.4" cy="350.8" r="2.4"/><circle cx="279.8" cy="373.1" r="2.4"/><circle cx="195.9" cy="362.9" r="2.4"/><circle cx="282.5" cy="366.9" r="2.4"/><circle cx="279.7" cy="418.6" r="2.4"/><circle cx="388.8" cy="239.6" r="2.4"/><circle cx="283.3" cy="416.4" r="2.4"/><circle cx="184.8" cy="352.1" r="2.4"/><circle cx="169.6" cy="424.9" r="2.4"/><circle cx="263.1" cy="401.0" r="2.4"/><circle cx="193.9" cy="415.7" r="2.4"/><circle cx="187.6" cy="424.2" r="2.4"/><circle cx="267.9" cy="406.5" r="2.4"/><circle cx="156.2" cy="392.6" r="2.4"/><circle cx="198.5" cy="403.8" r="2.4"/><circle cx="262.8" cy="393.1" r="2.4"/><circle cx="189.1" cy="402.7" r="2.4"/><circle cx="174.6" cy="391.0" r="2.4"/><circle cx="274.9" cy="399.9" r="2.4"/><circle cx="275.3" cy="378.5" r="2.4"/><circle cx="174.8" cy="397.8" r="2.4"/><circle cx="184.2" cy="387.5" r="2.4"/><circle cx="189.4" cy="423.5" r="2.4"/><circle cx="190.5" cy="393.3" r="2.4"/><circle cx="172.3" cy="401.0" r="2.4"/><circle cx="165.9" cy="413.4" r="2.4"/></g>
<g fill="#727272" stroke="#242424" stroke-width="0.9"><circle cx="173.3" cy="412.2" r="2.4"/><circle cx="299.2" cy="380.8" r="2.4"/><circle cx="157.1" cy="378.3" r="2.4"/><circle cx="283.7" cy="267.3" r="2.4"/><circle cx="193.4" cy="409.7" r="2.4"/><circle cx="156.1" cy="416.3" r="2.4"/><circle cx="180.2" cy="374.5" r="2.4"/><circle cx="287.9" cy="370.2" r="2.4"/><circle cx="278.0" cy="387.8" r="2.4"/><circle cx="262.3" cy="402.1" r="2.4"/><circle cx="270.7" cy="402.7" r="2.4"/><circle cx="313.8" cy="375.2" r="2.4"/><circle cx="275.0" cy="398.8" r="2.4"/><circle cx="190.6" cy="422.0" r="2.4"/><circle cx="294.2" cy="421.0" r="2.4"/><circle cx="313.5" cy="276.7" r="2.4"/><circle cx="266.8" cy="389.9" r="2.4"/><circle cx="189.9" cy="394.6" r="2.4"/><circle cx="333.7" cy="373.1" r="2.4"/><circle cx="263.7" cy="395.4" r="2.4"/><circle cx="275.5" cy="388.2" r="2.4"/><circle cx="300.4" cy="380.5" r="2.4"/><circle cx="170.5" cy="339.2" r="2.4"/><circle cx="189.7" cy="404.6" r="2.4"/><circle cx="195.9" cy="407.9" r="2.4"/><circle cx="161.2" cy="393.6" r="2.4"/><circle cx="276.3" cy="294.2" r="2.4"/><circle cx="286.5" cy="421.9" r="2.4"/><circle cx="266.9" cy="410.8" r="2.4"/><circle cx="262.0" cy="407.2" r="2.4"/><circle cx="314.8" cy="393.0" r="2.4"/><circle cx="267.9" cy="393.9" r="2.4"/><circle cx="180.0" cy="344.9" r="2.4"/><circle cx="181.0" cy="410.7" r="2.4"/><circle cx="147.0" cy="405.4" r="2.4"/><circle cx="289.4" cy="239.6" r="2.4"/><circle cx="165.4" cy="329.8" r="2.4"/><circle cx="269.6" cy="323.9" r="2.4"/><circle cx="278.9" cy="427.9" r="2.4"/><circle cx="274.5" cy="405.9" r="2.4"/></g>
<g fill="#727272" stroke="#242424" stroke-width="0.9"><circle cx="293.1" cy="401.1" r="2.4"/><circle cx="196.6" cy="413.0" r="2.4"/><circle cx="296.8" cy="354.0" r="2.4"/><circle cx="193.5" cy="401.4" r="2.4"/><circle cx="277.3" cy="412.0" r="2.4"/><circle cx="281.7" cy="391.6" r="2.4"/><circle cx="164.2" cy="422.4" r="2.4"/><circle cx="177.2" cy="397.1" r="2.4"/><circle cx="177.3" cy="405.6" r="2.4"/><circle cx="284.9" cy="385.2" r="2.4"/><circle cx="302.2" cy="390.2" r="2.4"/><circle cx="194.9" cy="399.0" r="2.4"/><circle cx="301.4" cy="348.1" r="2.4"/><circle cx="273.6" cy="356.7" r="2.4"/><circle cx="200.1" cy="405.2" r="2.4"/><circle cx="180.3" cy="376.4" r="2.4"/><circle cx="202.7" cy="408.1" r="2.4"/><circle cx="167.9" cy="426.2" r="2.4"/><circle cx="198.4" cy="412.1" r="2.4"/><circle cx="275.2" cy="422.9" r="2.4"/><circle cx="157.1" cy="352.9" r="2.4"/><circle cx="192.9" cy="353.5" r="2.4"/><circle cx="273.9" cy="386.0" r="2.4"/><circle cx="181.8" cy="410.6" r="2.4"/><circle cx="181.2" cy="412.7" r="2.4"/><circle cx="294.0" cy="427.0" r="2.4"/><circle cx="193.5" cy="414.1" r="2.4"/><circle cx="186.6" cy="379.4" r="2.4"/><circle cx="179.4" cy="340.5" r="2.4"/><circle cx="191.0" cy="357.8" r="2.4"/><circle cx="289.2" cy="432.4" r="2.4"/><circle cx="264.0" cy="403.6" r="2.4"/><circle cx="266.2" cy="404.2" r="2.4"/><circle cx="275.2" cy="360.7" r="2.4"/><circle cx="283.6" cy="417.3" r="2.4"/><circle cx="182.2" cy="397.1" r="2.4"/><circle cx="194.9" cy="399.6" r="2.4"/><circle cx="286.2" cy="405.3" r="2.4"/><circle cx="276.9" cy="403.2" r="2.4"/><circle cx="169.5" cy="389.4" r="2.4"/></g>
<g fill="#262626" stroke="#0c0c0c" stroke-width="0.9"><circle cx="241.6" cy="454.6" r="2.4"/><circle cx="240.4" cy="459.7" r="2.4"/><circle cx="247.5" cy="436.5" r="2.4"/><circle cx="204.6" cy="433.8" r="2.4"/><circle cx="200.3" cy="444.4" r="2.4"/><circle cx="265.9" cy="441.5" r="2.4"/><circle cx="269.9" cy="441.0" r="2.4"/><circle cx="213.1" cy="450.7" r="2.4"/><circle cx="209.5" cy="429.4" r="2.4"/><circle cx="246.8" cy="445.4" r="2.4"/><circle cx="193.3" cy="433.2" r="2.4"/><circle cx="240.3" cy="460.9" r="2.4"/><circle cx="274.7" cy="434.8" r="2.4"/><circle cx="199.1" cy="444.1" r="2.4"/><circle cx="271.1" cy="439.8" r="2.4"/><circle cx="256.9" cy="449.6" r="2.4"/><circle cx="205.4" cy="446.3" r="2.4"/><circle cx="204.2" cy="452.2" r="2.4"/><circle cx="211.4" cy="440.7" r="2.4"/><circle cx="249.9" cy="428.0" r="2.4"/><circle cx="204.3" cy="434.8" r="2.4"/><circle cx="219.4" cy="455.9" r="2.4"/><circle cx="265.1" cy="435.9" r="2.4"/><circle cx="257.4" cy="429.5" r="2.4"/><circle cx="207.9" cy="426.3" r="2.4"/><circle cx="247.5" cy="447.1" r="2.4"/><circle cx="251.3" cy="440.1" r="2.4"/><circle cx="208.8" cy="431.4" r="2.4"/><circle cx="248.2" cy="448.3" r="2.4"/><circle cx="201.6" cy="443.8" r="2.4"/><circle cx="194.9" cy="430.3" r="2.4"/><circle cx="250.4" cy="449.5" r="2.4"/><circle cx="208.2" cy="420.8" r="2.4"/><circle cx="264.7" cy="451.0" r="2.4"/><circle cx="243.3" cy="456.6" r="2.4"/><circle cx="253.5" cy="427.5" r="2.4"/><circle cx="250.3" cy="455.1" r="2.4"/><circle cx="260.7" cy="427.2" r="2.4"/><circle cx="215.0" cy="446.1" r="2.4"/><circle cx="252.2" cy="447.6" r="2.4"/></g>
<g fill="#262626" stroke="#0c0c0c" stroke-width="0.9"><circle cx="216.6" cy="451.4" r="2.4"/><circle cx="239.0" cy="456.2" r="2.4"/><circle cx="269.3" cy="439.2" r="2.4"/><circle cx="247.8" cy="445.2" r="2.4"/><circle cx="211.3" cy="441.5" r="2.4"/><circle cx="202.3" cy="447.3" r="2.4"/><circle cx="194.0" cy="446.9" r="2.4"/><circle cx="202.5" cy="439.7" r="2.4"/><circle cx="204.4" cy="421.4" r="2.4"/><circle cx="216.8" cy="449.0" r="2.4"/><circle cx="219.6" cy="452.0" r="2.4"/><circle cx="248.0" cy="445.1" r="2.4"/><circle cx="202.1" cy="442.3" r="2.4"/><circle cx="218.2" cy="453.9" r="2.4"/><circle cx="216.5" cy="449.8" r="2.4"/><circle cx="250.4" cy="440.6" r="2.4"/><circle cx="246.4" cy="441.7" r="2.4"/><circle cx="258.5" cy="436.0" r="2.4"/><circle cx="252.6" cy="419.7" r="2.4"/><circle cx="213.9" cy="435.8" r="2.4"/><circle cx="219.6" cy="450.9" r="2.4"/><circle cx="274.4" cy="438.4" r="2.4"/><circle cx="190.9" cy="436.9" r="2.4"/><circle cx="252.1" cy="438.0" r="2.4"/><circle cx="212.4" cy="432.8" r="2.4"/><circle cx="220.9" cy="459.3" r="2.4"/><circle cx="193.9" cy="432.0" r="2.4"/><circle cx="256.0" cy="422.9" r="2.4"/><circle cx="270.3" cy="441.8" r="2.4"/><circle cx="249.2" cy="435.4" r="2.4"/><circle cx="203.9" cy="421.8" r="2.4"/><circle cx="247.0" cy="449.5" r="2.4"/><circle cx="200.3" cy="442.9" r="2.4"/><circle cx="253.5" cy="454.5" r="2.4"/><circle cx="257.4" cy="440.3" r="2.4"/><circle cx="209.9" cy="436.9" r="2.4"/><circle cx="237.9" cy="456.3" r="2.4"/><circle cx="251.3" cy="446.3" r="2.4"/><circle cx="248.1" cy="452.1" r="2.4"/><circle cx="253.1" cy="437.9" r="2.4"/></g>
<g fill="#262626" stroke="#0c0c0c" stroke-width="0.9"><circle cx="246.2" cy="452.8" r="2.4"/><circle cx="254.9" cy="426.3" r="2.4"/><circle cx="207.5" cy="443.2" r="2.4"/><circle cx="237.7" cy="459.0" r="2.4"/><circle cx="271.4" cy="439.8" r="2.4"/><circle cx="256.3" cy="424.8" r="2.4"/><circle cx="194.8" cy="442.3" r="2.4"/><circle cx="251.2" cy="431.5" r="2.4"/><circle cx="268.3" cy="447.4" r="2.4"/><circle cx="258.3" cy="434.5" r="2.4"/><circle cx="240.3" cy="457.6" r="2.4"/><circle cx="254.2" cy="423.3" r="2.4"/><circle cx="220.5" cy="455.4" r="2.4"/><circle cx="216.1" cy="443.0" r="2.4"/><circle cx="195.8" cy="426.1" r="2.4"/><circle cx="247.3" cy="449.4" r="2.4"/><circle cx="213.4" cy="441.3" r="2.4"/><circle cx="258.4" cy="445.7" r="2.4"/><circle cx="256.3" cy="429.4" r="2.4"/><circle cx="262.0" cy="432.3" r="2.4"/><circle cx="242.5" cy="455.3" r="2.4"/><circle cx="260.8" cy="452.1" r="2.4"/><circle cx="205.1" cy="428.5" r="2.4"/><circle cx="245.7" cy="454.1" r="2.4"/><circle cx="250.3" cy="453.2" r="2.4"/><circle cx="267.8" cy="435.5" r="2.4"/><circle cx="247.7" cy="439.8" r="2.4"/><circle cx="245.8" cy="446.9" r="2.4"/><circle cx="255.4" cy="432.6" r="2.4"/><circle cx="220.9" cy="451.2" r="2.4"/><circle cx="208.3" cy="423.5" r="2.4"/><circle cx="247.9" cy="439.1" r="2.4"/><circle cx="227.1" cy="461.0" r="2.4"/><circle cx="254.6" cy="437.5" r="2.4"/><circle cx="212.6" cy="441.4" r="2.4"/><circle cx="226.0" cy="459.1" r="2.4"/><circle cx="257.1" cy="428.7" r="2.4"/><circle cx="201.8" cy="422.4" r="2.4"/><circle cx="210.3" cy="442.6" r="2.4"/><circle cx="258.8" cy="447.8" r="2.4"/></g>
<g fill="#262626" stroke="#0c0c0c" stroke-width="0.9"><circle cx="259.6" cy="436.6" r="2.4"/><circle cx="205.1" cy="424.9" r="2.4"/><circle cx="264.1" cy="432.5" r="2.4"/><circle cx="245.4" cy="451.0" r="2.4"/><circle cx="216.1" cy="449.1" r="2.4"/><circle cx="209.7" cy="435.0" r="2.4"/><circle cx="266.6" cy="444.5" r="2.4"/><circle cx="211.5" cy="435.9" r="2.4"/><circle cx="224.9" cy="460.6" r="2.4"/><circle cx="252.1" cy="445.8" r="2.4"/><circle cx="273.8" cy="442.8" r="2.4"/><circle cx="255.2" cy="455.1" r="2.4"/><circle cx="249.1" cy="435.0" r="2.4"/><circle cx="218.4" cy="450.2" r="2.4"/><circle cx="242.0" cy="455.8" r="2.4"/><circle cx="271.8" cy="434.4" r="2.4"/><circle cx="205.7" cy="439.3" r="2.4"/><circle cx="213.7" cy="440.1" r="2.4"/><circle cx="269.9" cy="446.3" r="2.4"/><circle cx="210.5" cy="432.6" r="2.4"/><circle cx="243.5" cy="454.3" r="2.4"/><circle cx="225.8" cy="461.6" r="2.4"/><circle cx="271.4" cy="436.5" r="2.4"/><circle cx="207.0" cy="419.9" r="2.4"/><circle cx="267.5" cy="438.5" r="2.4"/><circle cx="211.4" cy="449.2" r="2.4"/><circle cx="215.9" cy="455.0" r="2.4"/><circle cx="242.3" cy="446.7" r="2.4"/><circle cx="256.1" cy="441.9" r="2.4"/><circle cx="249.5" cy="453.9" r="2.4"/><circle cx="251.0" cy="426.5" r="2.4"/><circle cx="256.8" cy="427.4" r="2.4"/><circle cx="212.5" cy="439.4" r="2.4"/><circle cx="255.6" cy="433.1" r="2.4"/><circle cx="202.7" cy="420.7" r="2.4"/><circle cx="267.1" cy="432.0" r="2.4"/><circle cx="253.5" cy="435.4" r="2.4"/><circle cx="201.9" cy="426.8" r="2.4"/><circle cx="262.1" cy="448.1" r="2.4"/><circle cx="273.4" cy="441.1" r="2.4"/></g>
<g fill="#606060" stroke="#1f1f1f" stroke-width="0.9"><circle cx="201.0" cy="401.7" r="2.4"/><circle cx="200.5" cy="414.1" r="2.4"/><circle cx="203.1" cy="411.3" r="2.4"/><circle cx="181.5" cy="438.1" r="2.4"/><circle cx="259.2" cy="409.2" r="2.4"/><circle cx="285.4" cy="437.6" r="2.4"/><circle cx="190.9" cy="423.0" r="2.4"/><circle cx="264.1" cy="410.8" r="2.4"/><circle cx="199.6" cy="416.5" r="2.4"/><circle cx="198.6" cy="406.1" r="2.4"/><circle cx="279.2" cy="430.2" r="2.4"/><circle cx="264.8" cy="418.7" r="2.4"/><circle cx="262.1" cy="413.6" r="2.4"/><circle cx="202.4" cy="414.5" r="2.4"/><circle cx="199.6" cy="413.4" r="2.4"/><circle cx="206.3" cy="413.5" r="2.4"/><circle cx="262.2" cy="416.2" r="2.4"/><circle cx="193.2" cy="415.3" r="2.4"/><circle cx="272.1" cy="423.8" r="2.4"/><circle cx="191.3" cy="416.8" r="2.4"/><circle cx="256.4" cy="409.2" r="2.4"/><circle cx="187.3" cy="427.4" r="2.4"/><circle cx="259.6" cy="410.5" r="2.4"/><circle cx="260.3" cy="413.0" r="2.4"/><circle cx="202.8" cy="403.5" r="2.4"/><circle cx="195.4" cy="412.1" r="2.4"/><circle cx="202.7" cy="407.2" r="2.4"/><circle cx="275.7" cy="425.9" r="2.4"/><circle cx="196.2" cy="414.8" r="2.4"/><circle cx="202.0" cy="412.8" r="2.4"/><circle cx="197.3" cy="412.1" r="2.4"/><circle cx="204.3" cy="411.8" r="2.4"/><circle cx="279.3" cy="430.2" r="2.4"/><circle cx="258.4" cy="407.8" r="2.4"/><circle cx="199.3" cy="416.3" r="2.4"/><circle cx="264.1" cy="417.3" r="2.4"/><circle cx="180.8" cy="429.6" r="2.4"/><circle cx="199.3" cy="407.8" r="2.4"/><circle cx="190.1" cy="419.4" r="2.4"/><circle cx="203.8" cy="409.2" r="2.4"/></g>
<g fill="#727272" stroke="#242424" stroke-width="0.9"><circle cx="294.6" cy="327.9" r="2.4"/><circle cx="276.5" cy="399.7" r="2.4"/><circle cx="80.0" cy="239.5" r="2.4"/><circle cx="170.8" cy="380.9" r="2.4"/><circle cx="300.0" cy="344.9" r="2.4"/><circle cx="195.2" cy="410.2" r="2.4"/><circle cx="266.6" cy="388.7" r="2.4"/><circle cx="178.0" cy="284.0" r="2.4"/><circle cx="290.6" cy="341.4" r="2.4"/><circle cx="161.0" cy="424.2" r="2.4"/><circle cx="175.3" cy="429.1" r="2.4"/><circle cx="185.0" cy="406.6" r="2.4"/><circle cx="168.1" cy="402.3" r="2.4"/><circle cx="271.9" cy="415.4" r="2.4"/><circle cx="175.3" cy="423.6" r="2.4"/><circle cx="336.9" cy="349.7" r="2.4"/><circle cx="176.0" cy="399.3" r="2.4"/><circle cx="289.8" cy="299.1" r="2.4"/><circle cx="282.6" cy="394.3" r="2.4"/><circle cx="185.4" cy="404.3" r="2.4"/><circle cx="167.8" cy="412.9" r="2.4"/><circle cx="185.2" cy="413.8" r="2.4"/><circle cx="279.8" cy="312.5" r="2.4"/><circle cx="287.3" cy="412.6" r="2.4"/><circle cx="195.5" cy="396.6" r="2.4"/><circle cx="290.2" cy="404.7" r="2.4"/><circle cx="271.0" cy="415.4" r="2.4"/><circle cx="140.2" cy="393.9" r="2.4"/><circle cx="174.1" cy="423.9" r="2.4"/><circle cx="279.4" cy="409.9" r="2.4"/><circle cx="282.5" cy="350.2" r="2.4"/><circle cx="181.1" cy="389.7" r="2.4"/><circle cx="294.1" cy="346.2" r="2.4"/><circle cx="160.9" cy="394.1" r="2.4"/><circle cx="170.8" cy="239.5" r="2.4"/><circle cx="316.7" cy="292.9" r="2.4"/><circle cx="186.2" cy="336.8" r="2.4"/><circle cx="259.4" cy="405.7" r="2.4"/><circle cx="286.6" cy="432.3" r="2.4"/><circle cx="266.0" cy="411.6" r="2.4"/></g>
<g fill="#727272" stroke="#242424" stroke-width="0.9"><circle cx="158.7" cy="413.5" r="2.4"/><circle cx="186.7" cy="370.2" r="2.4"/><circle cx="173.8" cy="397.5" r="2.4"/><circle cx="163.0" cy="417.6" r="2.4"/><circle cx="274.2" cy="419.1" r="2.4"/><circle cx="184.0" cy="427.5" r="2.4"/><circle cx="175.4" cy="373.7" r="2.4"/><circle cx="269.5" cy="414.3" r="2.4"/><circle cx="271.7" cy="371.8" r="2.4"/><circle cx="195.3" cy="395.5" r="2.4"/><circle cx="316.2" cy="381.5" r="2.4"/><circle cx="357.4" cy="287.0" r="2.4"/><circle cx="276.2" cy="411.1" r="2.4"/><circle cx="260.0" cy="401.7" r="2.4"/><circle cx="300.5" cy="311.7" r="2.4"/><circle cx="315.6" cy="372.3" r="2.4"/><circle cx="275.0" cy="381.6" r="2.4"/><circle cx="308.1" cy="289.7" r="2.4"/><circle cx="172.1" cy="407.8" r="2.4"/><circle cx="169.3" cy="397.0" r="2.4"/><circle cx="274.7" cy="393.9" r="2.4"/><circle cx="294.6" cy="315.8" r="2.4"/><circle cx="177.6" cy="426.4" r="2.4"/><circle cx="286.5" cy="426.0" r="2.4"/><circle cx="297.3" cy="296.9" r="2.4"/><circle cx="149.8" cy="368.3" r="2.4"/><circle cx="331.0" cy="270.8" r="2.4"/><circle cx="172.6" cy="239.5" r="2.4"/><circle cx="200.1" cy="404.9" r="2.4"/><circle cx="198.2" cy="408.8" r="2.4"/><circle cx="169.5" cy="327.9" r="2.4"/><circle cx="259.2" cy="409.5" r="2.4"/><circle cx="300.0" cy="400.8" r="2.4"/><circle cx="310.1" cy="406.5" r="2.4"/><circle cx="180.8" cy="390.6" r="2.4"/><circle cx="296.7" cy="401.8" r="2.4"/><circle cx="313.5" cy="386.9" r="2.4"/><circle cx="171.4" cy="405.8" r="2.4"/><circle cx="168.7" cy="413.9" r="2.4"/><circle cx="193.0" cy="405.1" r="2.4"/></g>
<g fill="#727272" stroke="#242424" stroke-width="0.9"><circle cx="273.6" cy="387.9" r="2.4"/><circle cx="185.1" cy="373.9" r="2.4"/><circle cx="294.4" cy="400.6" r="2.4"/><circle cx="182.1" cy="356.2" r="2.4"/><circle cx="281.0" cy="418.5" r="2.4"/><circle cx="303.1" cy="384.5" r="2.4"/><circle cx="263.3" cy="391.5" r="2.4"/><circle cx="314.8" cy="365.6" r="2.4"/><circle cx="192.3" cy="402.0" r="2.4"/><circle cx="146.3" cy="392.8" r="2.4"/><circle cx="270.3" cy="411.8" r="2.4"/><circle cx="175.5" cy="428.2" r="2.4"/><circle cx="289.2" cy="331.4" r="2.4"/><circle cx="262.4" cy="408.6" r="2.4"/><circle cx="293.5" cy="277.5" r="2.4"/><circle cx="196.4" cy="409.4" r="2.4"/><circle cx="171.0" cy="278.5" r="2.4"/><circle cx="292.7" cy="329.8" r="2.4"/><circle cx="190.7" cy="390.0" r="2.4"/><circle cx="265.8" cy="411.9" r="2.4"/><circle cx="269.2" cy="409.3" r="2.4"/><circle cx="183.8" cy="388.5" r="2.4"/><circle cx="287.1" cy="322.5" r="2.4"/><circle cx="258.8" cy="404.7" r="2.4"/><circle cx="264.0" cy="408.7" r="2.4"/><circle cx="274.9" cy="414.1" r="2.4"/><circle cx="178.6" cy="411.2" r="2.4"/><circle cx="178.5" cy="428.9" r="2.4"/><circle cx="191.4" cy="392.8" r="2.4"/><circle cx="142.7" cy="239.5" r="2.4"/><circle cx="299.6" cy="421.0" r="2.4"/><circle cx="189.3" cy="400.7" r="2.4"/><circle cx="297.3" cy="394.9" r="2.4"/><circle cx="151.6" cy="393.8" r="2.4"/><circle cx="179.5" cy="386.8" r="2.4"/><circle cx="190.6" cy="385.5" r="2.4"/><circle cx="173.9" cy="411.2" r="2.4"/><circle cx="274.1" cy="402.7" r="2.4"/><circle cx="175.3" cy="406.9" r="2.4"/><circle cx="180.2" cy="326.5" r="2.4"/></g>
<g fill="#262626" stroke="#0c0c0c" stroke-width="0.9"><circle cx="265.5" cy="442.9" r="2.4"/><circle cx="200.2" cy="450.6" r="2.4"/><circle cx="255.5" cy="420.3" r="2.4"/><circle cx="207.3" cy="420.6" r="2.4"/><circle cx="259.5" cy="440.2" r="2.4"/><circle cx="275.9" cy="434.3" r="2.4"/><circle cx="215.8" cy="458.2" r="2.4"/><circle cx="253.0" cy="424.7" r="2.4"/><circle cx="263.3" cy="440.8" r="2.4"/><circle cx="254.1" cy="431.2" r="2.4"/><circle cx="259.9" cy="429.6" r="2.4"/><circle cx="257.2" cy="434.0" r="2.4"/><circle cx="208.1" cy="426.6" r="2.4"/><circle cx="247.1" cy="447.1" r="2.4"/><circle cx="261.5" cy="444.2" r="2.4"/><circle cx="254.4" cy="438.0" r="2.4"/><circle cx="215.2" cy="441.5" r="2.4"/><circle cx="243.7" cy="449.4" r="2.4"/><circle cx="209.8" cy="447.3" r="2.4"/><circle cx="266.2" cy="432.8" r="2.4"/><circle cx="216.8" cy="451.4" r="2.4"/><circle cx="274.4" cy="431.9" r="2.4"/><circle cx="265.3" cy="428.8" r="2.4"/><circle cx="241.6" cy="449.8" r="2.4"/><circle cx="215.8" cy="450.4" r="2.4"/><circle cx="215.8" cy="447.8" r="2.4"/><circle cx="211.3" cy="437.4" r="2.4"/><circle cx="195.5" cy="436.3" r="2.4"/><circle cx="190.6" cy="437.2" r="2.4"/><circle cx="262.1" cy="445.6" r="2.4"/><circle cx="200.5" cy="442.8" r="2.4"/><circle cx="249.9" cy="438.4" r="2.4"/><circle cx="213.2" cy="438.5" r="2.4"/><circle cx="267.4" cy="446.8" r="2.4"/><circle cx="207.3" cy="422.8" r="2.4"/><circle cx="243.7" cy="453.5" r="2.4"/><circle cx="209.1" cy="422.8" r="2.4"/><circle cx="220.1" cy="452.1" r="2.4"/><circle cx="203.0" cy="430.7" r="2.4"/><circle cx="208.7" cy="430.7" r="2.4"/></g>
<g fill="#727272" stroke="#242424" stroke-width="0.9"><circle cx="274.7" cy="371.7" r="2.4"/><circle cx="181.4" cy="396.6" r="2.4"/><circle cx="271.9" cy="393.6" r="2.4"/><circle cx="319.7" cy="323.9" r="2.4"/><circle cx="163.3" cy="239.5" r="2.4"/><circle cx="285.3" cy="417.9" r="2.4"/><circle cx="192.0" cy="425.2" r="2.4"/><circle cx="286.9" cy="409.7" r="2.4"/><circle cx="277.6" cy="415.8" r="2.4"/><circle cx="321.3" cy="274.6" r="2.4"/><circle cx="193.3" cy="390.3" r="2.4"/><circle cx="320.7" cy="358.3" r="2.4"/><circle cx="288.6" cy="412.6" r="2.4"/><circle cx="277.5" cy="425.7" r="2.4"/><circle cx="162.3" cy="397.2" r="2.4"/><circle cx="282.7" cy="381.9" r="2.4"/><circle cx="277.6" cy="419.3" r="2.4"/><circle cx="265.4" cy="392.0" r="2.4"/><circle cx="358.7" cy="319.8" r="2.4"/><circle cx="195.0" cy="407.5" r="2.4"/><circle cx="271.7" cy="392.7" r="2.4"/><circle cx="311.6" cy="361.5" r="2.4"/><circle cx="286.2" cy="390.1" r="2.4"/><circle cx="195.9" cy="370.7" r="2.4"/><circle cx="189.9" cy="375.0" r="2.4"/><circle cx="300.4" cy="409.2" r="2.4"/><circle cx="274.0" cy="404.2" r="2.4"/><circle cx="357.9" cy="321.7" r="2.4"/><circle cx="189.2" cy="406.5" r="2.4"/><circle cx="258.2" cy="407.1" r="2.4"/><circle cx="149.6" cy="244.0" r="2.4"/><circle cx="337.2" cy="287.5" r="2.4"/><circle cx="264.5" cy="365.6" r="2.4"/><circle cx="293.5" cy="402.9" r="2.4"/><circle cx="292.3" cy="416.1" r="2.4"/><circle cx="192.1" cy="335.4" r="2.4"/><circle cx="260.2" cy="405.0" r="2.4"/><circle cx="281.0" cy="401.8" r="2.4"/><circle cx="157.4" cy="392.1" r="2.4"/><circle cx="177.5" cy="312.5" r="2.4"/></g>
<g fill="#262626" stroke="#0c0c0c" stroke-width="0.9"><circle cx="201.3" cy="429.6" r="2.4"/><circle cx="262.3" cy="435.7" r="2.4"/><circle cx="224.0" cy="457.7" r="2.4"/><circle cx="204.4" cy="439.0" r="2.4"/><circle cx="220.8" cy="460.0" r="2.4"/><circle cx="203.2" cy="426.9" r="2.4"/><circle cx="213.9" cy="456.9" r="2.4"/><circle cx="219.7" cy="456.8" r="2.4"/><circle cx="241.7" cy="457.1" r="2.4"/><circle cx="240.5" cy="457.5" r="2.4"/><circle cx="201.8" cy="441.2" r="2.4"/><circle cx="197.9" cy="429.3" r="2.4"/><circle cx="274.6" cy="435.0" r="2.4"/><circle cx="197.5" cy="438.1" r="2.4"/><circle cx="260.8" cy="439.2" r="2.4"/><circle cx="257.8" cy="448.6" r="2.4"/><circle cx="257.6" cy="436.0" r="2.4"/><circle cx="197.7" cy="434.7" r="2.4"/><circle cx="262.7" cy="427.9" r="2.4"/><circle cx="210.0" cy="444.3" r="2.4"/><circle cx="206.0" cy="427.2" r="2.4"/><circle cx="206.5" cy="447.6" r="2.4"/><circle cx="221.4" cy="458.7" r="2.4"/><circle cx="225.5" cy="458.6" r="2.4"/><circle cx="242.8" cy="458.4" r="2.4"/><circle cx="207.6" cy="437.4" r="2.4"/><circle cx="207.9" cy="424.0" r="2.4"/><circle cx="207.8" cy="448.0" r="2.4"/><circle cx="210.9" cy="437.7" r="2.4"/><circle cx="277.0" cy="434.6" r="2.4"/><circle cx="258.3" cy="423.0" r="2.4"/><circle cx="254.7" cy="431.7" r="2.4"/><circle cx="255.9" cy="454.0" r="2.4"/><circle cx="251.8" cy="430.5" r="2.4"/><circle cx="209.9" cy="426.5" r="2.4"/><circle cx="270.5" cy="439.4" r="2.4"/><circle cx="260.2" cy="450.4" r="2.4"/><circle cx="254.9" cy="452.3" r="2.4"/><circle cx="244.6" cy="450.8" r="2.4"/><circle cx="216.1" cy="456.0" r="2.4"/></g>
<g fill="#262626" stroke="#0c0c0c" stroke-width="0.9"><circle cx="214.4" cy="447.2" r="2.4"/><circle cx="210.5" cy="455.7" r="2.4"/><circle cx="203.5" cy="441.9" r="2.4"/><circle cx="249.6" cy="442.5" r="2.4"/><circle cx="208.1" cy="439.8" r="2.4"/><circle cx="253.4" cy="445.8" r="2.4"/><circle cx="248.4" cy="457.3" r="2.4"/><circle cx="248.7" cy="445.5" r="2.4"/><circle cx="246.4" cy="443.7" r="2.4"/><circle cx="211.1" cy="435.5" r="2.4"/><circle cx="256.8" cy="448.2" r="2.4"/><circle cx="241.9" cy="456.3" r="2.4"/><circle cx="241.4" cy="456.4" r="2.4"/><circle cx="208.8" cy="453.1" r="2.4"/><circle cx="254.6" cy="426.3" r="2.4"/><circle cx="210.6" cy="446.6" r="2.4"/><circle cx="241.9" cy="453.3" r="2.4"/><circle cx="210.5" cy="444.6" r="2.4"/><circle cx="270.6" cy="440.2" r="2.4"/><circle cx="213.5" cy="440.3" r="2.4"/><circle cx="212.2" cy="438.6" r="2.4"/><circle cx="209.6" cy="425.6" r="2.4"/><circle cx="275.8" cy="443.7" r="2.4"/><circle cx="197.3" cy="427.6" r="2.4"/><circle cx="241.1" cy="457.2" r="2.4"/><circle cx="212.3" cy="433.9" r="2.4"/><circle cx="244.0" cy="449.7" r="2.4"/><circle cx="239.9" cy="459.7" r="2.4"/><circle cx="251.8" cy="433.7" r="2.4"/><circle cx="200.3" cy="440.9" r="2.4"/><circle cx="269.3" cy="433.5" r="2.4"/><circle cx="214.0" cy="438.9" r="2.4"/><circle cx="221.8" cy="453.9" r="2.4"/><circle cx="274.1" cy="435.1" r="2.4"/><circle cx="218.0" cy="455.0" r="2.4"/><circle cx="241.3" cy="452.4" r="2.4"/><circle cx="237.2" cy="461.3" r="2.4"/><circle cx="210.5" cy="430.1" r="2.4"/><circle cx="253.4" cy="442.5" r="2.4"/><circle cx="242.0" cy="448.3" r="2.4"/></g>
<g fill="#727272" stroke="#242424" stroke-width="0.9"><circle cx="291.4" cy="310.4" r="2.4"/><circle cx="143.4" cy="405.6" r="2.4"/><circle cx="284.5" cy="421.4" r="2.4"/><circle cx="177.3" cy="393.2" r="2.4"/><circle cx="300.8" cy="398.3" r="2.4"/><circle cx="166.0" cy="420.6" r="2.4"/><circle cx="261.7" cy="397.6" r="2.4"/><circle cx="186.7" cy="356.7" r="2.4"/><circle cx="159.8" cy="381.5" r="2.4"/><circle cx="285.4" cy="390.7" r="2.4"/><circle cx="270.0" cy="379.7" r="2.4"/><circle cx="198.5" cy="396.8" r="2.4"/><circle cx="335.6" cy="239.6" r="2.4"/><circle cx="175.3" cy="375.7" r="2.4"/><circle cx="171.1" cy="416.8" r="2.4"/><circle cx="193.6" cy="413.0" r="2.4"/><circle cx="305.4" cy="247.3" r="2.4"/><circle cx="194.1" cy="398.5" r="2.4"/><circle cx="268.3" cy="381.4" r="2.4"/><circle cx="295.1" cy="396.8" r="2.4"/><circle cx="259.6" cy="399.9" r="2.4"/><circle cx="275.3" cy="413.1" r="2.4"/><circle cx="271.6" cy="383.4" r="2.4"/><circle cx="181.5" cy="404.5" r="2.4"/><circle cx="186.4" cy="377.6" r="2.4"/><circle cx="162.5" cy="393.4" r="2.4"/><circle cx="262.8" cy="366.1" r="2.4"/><circle cx="270.4" cy="387.0" r="2.4"/><circle cx="176.3" cy="425.6" r="2.4"/><circle cx="180.1" cy="424.2" r="2.4"/><circle cx="302.7" cy="292.1" r="2.4"/><circle cx="303.4" cy="239.6" r="2.4"/><circle cx="266.8" cy="410.9" r="2.4"/><circle cx="183.6" cy="381.6" r="2.4"/><circle cx="282.0" cy="280.8" r="2.4"/><circle cx="284.2" cy="430.5" r="2.4"/><circle cx="315.0" cy="239.6" r="2.4"/><circle cx="181.3" cy="415.8" r="2.4"/><circle cx="166.2" cy="418.6" r="2.4"/><circle cx="313.6" cy="398.8" r="2.4"/></g>
<g fill="#727272" stroke="#242424" stroke-width="0.9"><circle cx="300.0" cy="239.6" r="2.4"/><circle cx="191.5" cy="326.5" r="2.4"/><circle cx="266.7" cy="407.6" r="2.4"/><circle cx="261.3" cy="412.9" r="2.4"/><circle cx="337.4" cy="239.6" r="2.4"/><circle cx="195.0" cy="411.1" r="2.4"/><circle cx="290.5" cy="424.3" r="2.4"/><circle cx="310.8" cy="326.5" r="2.4"/><circle cx="298.1" cy="366.1" r="2.4"/><circle cx="179.7" cy="408.7" r="2.4"/><circle cx="281.9" cy="424.9" r="2.4"/><circle cx="294.6" cy="290.2" r="2.4"/><circle cx="199.6" cy="406.8" r="2.4"/><circle cx="185.6" cy="409.5" r="2.4"/><circle cx="285.6" cy="422.2" r="2.4"/><circle cx="281.2" cy="390.6" r="2.4"/><circle cx="186.3" cy="269.8" r="2.4"/><circle cx="182.4" cy="370.7" r="2.4"/><circle cx="270.1" cy="397.5" r="2.4"/><circle cx="190.7" cy="384.9" r="2.4"/><circle cx="271.1" cy="377.7" r="2.4"/><circle cx="282.6" cy="400.2" r="2.4"/><circle cx="278.9" cy="405.2" r="2.4"/><circle cx="259.7" cy="402.2" r="2.4"/><circle cx="178.3" cy="413.6" r="2.4"/><circle cx="283.5" cy="390.7" r="2.4"/><circle cx="283.8" cy="399.8" r="2.4"/><circle cx="180.6" cy="416.3" r="2.4"/><circle cx="278.1" cy="411.5" r="2.4"/><circle cx="174.1" cy="425.1" r="2.4"/><circle cx="194.6" cy="398.6" r="2.4"/><circle cx="297.3" cy="332.5" r="2.4"/><circle cx="194.9" cy="403.9" r="2.4"/><circle cx="306.7" cy="321.7" r="2.4"/><circle cx="180.8" cy="350.8" r="2.4"/><circle cx="174.3" cy="411.5" r="2.4"/><circle cx="392.7" cy="239.6" r="2.4"/><circle cx="171.9" cy="390.7" r="2.4"/><circle cx="289.8" cy="364.8" r="2.4"/><circle cx="265.8" cy="402.4" r="2.4"/></g>
<g fill="#262626" stroke="#0c0c0c" stroke-width="0.9"><circle cx="258.7" cy="433.3" r="2.4"/><circle cx="276.8" cy="438.3" r="2.4"/><circle cx="259.6" cy="438.1" r="2.4"/><circle cx="249.6" cy="441.0" r="2.4"/><circle cx="254.7" cy="431.2" r="2.4"/><circle cx="244.7" cy="443.4" r="2.4"/><circle cx="232.8" cy="461.6" r="2.4"/><circle cx="211.8" cy="449.6" r="2.4"/><circle cx="217.7" cy="445.0" r="2.4"/><circle cx="203.2" cy="433.8" r="2.4"/><circle cx="252.3" cy="421.9" r="2.4"/><circle cx="214.3" cy="451.6" r="2.4"/><circle cx="255.7" cy="449.4" r="2.4"/><circle cx="256.2" cy="436.8" r="2.4"/><circle cx="213.2" cy="437.4" r="2.4"/><circle cx="216.6" cy="447.9" r="2.4"/><circle cx="254.1" cy="430.5" r="2.4"/><circle cx="265.4" cy="442.3" r="2.4"/><circle cx="249.6" cy="452.4" r="2.4"/><circle cx="251.2" cy="453.8" r="2.4"/><circle cx="247.5" cy="451.4" r="2.4"/><circle cx="200.6" cy="428.3" r="2.4"/><circle cx="214.2" cy="437.3" r="2.4"/><circle cx="242.2" cy="447.4" r="2.4"/><circle cx="203.0" cy="447.4" r="2.4"/><circle cx="205.6" cy="446.7" r="2.4"/><circle cx="254.8" cy="451.9" r="2.4"/><circle cx="252.4" cy="433.2" r="2.4"/><circle cx="196.2" cy="434.4" r="2.4"/><circle cx="222.3" cy="455.8" r="2.4"/><circle cx="196.8" cy="425.7" r="2.4"/><circle cx="206.3" cy="431.0" r="2.4"/><circle cx="195.1" cy="432.0" r="2.4"/><circle cx="210.4" cy="429.4" r="2.4"/><circle cx="249.0" cy="430.4" r="2.4"/><circle cx="235.9" cy="458.6" r="2.4"/><circle cx="214.7" cy="439.2" r="2.4"/><circle cx="211.3" cy="438.9" r="2.4"/><circle cx="213.7" cy="453.5" r="2.4"/><circle cx="210.6" cy="445.5" r="2.4"/></g>
<g fill="#262626" stroke="#0c0c0c" stroke-width="0.9"><circle cx="266.2" cy="443.5" r="2.4"/><circle cx="210.5" cy="432.0" r="2.4"/><circle cx="210.3" cy="448.2" r="2.4"/><circle cx="196.0" cy="445.0" r="2.4"/><circle cx="198.9" cy="436.8" r="2.4"/><circle cx="193.1" cy="443.6" r="2.4"/><circle cx="256.9" cy="431.8" r="2.4"/><circle cx="251.6" cy="435.6" r="2.4"/><circle cx="216.1" cy="455.8" r="2.4"/><circle cx="254.0" cy="440.6" r="2.4"/><circle cx="235.0" cy="459.8" r="2.4"/><circle cx="222.8" cy="453.7" r="2.4"/><circle cx="212.3" cy="434.1" r="2.4"/><circle cx="200.5" cy="428.8" r="2.4"/><circle cx="251.2" cy="425.4" r="2.4"/><circle cx="204.8" cy="451.3" r="2.4"/><circle cx="199.5" cy="423.7" r="2.4"/><circle cx="211.8" cy="435.2" r="2.4"/><circle cx="258.2" cy="445.0" r="2.4"/><circle cx="198.2" cy="441.6" r="2.4"/><circle cx="211.0" cy="435.4" r="2.4"/><circle cx="265.9" cy="426.5" r="2.4"/><circle cx="209.3" cy="454.5" r="2.4"/><circle cx="209.8" cy="444.6" r="2.4"/><circle cx="210.0" cy="449.5" r="2.4"/><circle cx="213.4" cy="452.5" r="2.4"/><circle cx="206.5" cy="441.4" r="2.4"/><circle cx="214.9" cy="437.7" r="2.4"/><circle cx="248.6" cy="448.7" r="2.4"/><circle cx="255.5" cy="431.1" r="2.4"/><circle cx="247.7" cy="452.9" r="2.4"/><circle cx="194.0" cy="436.4" r="2.4"/><circle cx="281.3" cy="441.1" r="2.4"/><circle cx="199.0" cy="435.8" r="2.4"/><circle cx="252.3" cy="435.4" r="2.4"/><circle cx="187.7" cy="437.3" r="2.4"/><circle cx="193.0" cy="432.7" r="2.4"/><circle cx="269.9" cy="428.7" r="2.4"/><circle cx="241.2" cy="456.6" r="2.4"/><circle cx="271.7" cy="433.6" r="2.4"/></g>
<g fill="#727272" stroke="#242424" stroke-width="0.9"><circle cx="311.6" cy="239.6" r="2.4"/><circle cx="287.1" cy="433.3" r="2.4"/><circle cx="265.3" cy="389.2" r="2.4"/><circle cx="157.4" cy="419.4" r="2.4"/><circle cx="280.0" cy="380.1" r="2.4"/><circle cx="194.7" cy="409.3" r="2.4"/><circle cx="270.0" cy="394.3" r="2.4"/><circle cx="271.6" cy="403.1" r="2.4"/><circle cx="283.8" cy="406.8" r="2.4"/><circle cx="285.7" cy="394.1" r="2.4"/><circle cx="188.3" cy="394.5" r="2.4"/><circle cx="190.4" cy="420.5" r="2.4"/><circle cx="283.9" cy="425.7" r="2.4"/><circle cx="190.0" cy="384.3" r="2.4"/><circle cx="177.2" cy="390.1" r="2.4"/><circle cx="296.8" cy="396.3" r="2.4"/><circle cx="264.2" cy="365.4" r="2.4"/><circle cx="266.8" cy="399.0" r="2.4"/><circle cx="284.7" cy="419.6" r="2.4"/><circle cx="279.4" cy="426.5" r="2.4"/><circle cx="160.4" cy="254.4" r="2.4"/><circle cx="181.0" cy="421.4" r="2.4"/><circle cx="271.6" cy="377.1" r="2.4"/><circle cx="281.6" cy="411.3" r="2.4"/><circle cx="283.9" cy="358.9" r="2.4"/><circle cx="183.1" cy="412.0" r="2.4"/><circle cx="284.9" cy="432.3" r="2.4"/><circle cx="188.8" cy="402.5" r="2.4"/><circle cx="296.0" cy="348.1" r="2.4"/><circle cx="277.5" cy="400.2" r="2.4"/><circle cx="291.9" cy="425.5" r="2.4"/><circle cx="318.4" cy="239.6" r="2.4"/><circle cx="193.3" cy="408.2" r="2.4"/><circle cx="265.3" cy="407.6" r="2.4"/><circle cx="277.9" cy="335.4" r="2.4"/><circle cx="316.2" cy="367.5" r="2.4"/><circle cx="287.3" cy="382.2" r="2.4"/><circle cx="193.8" cy="399.8" r="2.4"/><circle cx="184.0" cy="361.5" r="2.4"/><circle cx="271.6" cy="407.3" r="2.4"/></g>
<g fill="#262626" stroke="#0c0c0c" stroke-width="0.9"><circle cx="203.6" cy="445.9" r="2.4"/><circle cx="220.6" cy="454.2" r="2.4"/><circle cx="246.3" cy="439.0" r="2.4"/><circle cx="216.9" cy="453.2" r="2.4"/><circle cx="249.3" cy="439.2" r="2.4"/><circle cx="253.8" cy="429.7" r="2.4"/><circle cx="249.6" cy="458.0" r="2.4"/><circle cx="242.8" cy="450.4" r="2.4"/><circle cx="234.8" cy="461.4" r="2.4"/><circle cx="214.6" cy="439.9" r="2.4"/><circle cx="254.3" cy="440.8" r="2.4"/><circle cx="211.7" cy="433.6" r="2.4"/><circle cx="254.3" cy="428.3" r="2.4"/><circle cx="253.2" cy="441.0" r="2.4"/><circle cx="248.2" cy="445.9" r="2.4"/><circle cx="198.9" cy="448.5" r="2.4"/><circle cx="249.2" cy="452.3" r="2.4"/><circle cx="252.8" cy="452.6" r="2.4"/><circle cx="252.3" cy="434.1" r="2.4"/><circle cx="193.0" cy="439.9" r="2.4"/><circle cx="265.1" cy="448.1" r="2.4"/><circle cx="217.2" cy="444.3" r="2.4"/><circle cx="211.6" cy="449.0" r="2.4"/><circle cx="207.4" cy="424.1" r="2.4"/><circle cx="199.0" cy="433.3" r="2.4"/><circle cx="204.6" cy="431.5" r="2.4"/><circle cx="203.3" cy="429.7" r="2.4"/><circle cx="259.2" cy="444.5" r="2.4"/><circle cx="214.9" cy="457.4" r="2.4"/><circle cx="257.4" cy="451.8" r="2.4"/><circle cx="258.4" cy="438.9" r="2.4"/><circle cx="213.0" cy="436.8" r="2.4"/><circle cx="245.7" cy="442.3" r="2.4"/><circle cx="194.0" cy="432.2" r="2.4"/><circle cx="210.5" cy="425.5" r="2.4"/><circle cx="256.9" cy="439.9" r="2.4"/><circle cx="243.1" cy="450.4" r="2.4"/><circle cx="207.1" cy="420.1" r="2.4"/><circle cx="270.0" cy="435.7" r="2.4"/><circle cx="252.7" cy="444.9" r="2.4"/></g>
<g fill="#727272" stroke="#242424" stroke-width="0.9"><circle cx="272.8" cy="392.4" r="2.4"/><circle cx="196.8" cy="398.5" r="2.4"/><circle cx="308.4" cy="376.6" r="2.4"/><circle cx="328.8" cy="239.6" r="2.4"/><circle cx="198.4" cy="401.2" r="2.4"/><circle cx="198.0" cy="375.5" r="2.4"/><circle cx="292.0" cy="411.3" r="2.4"/><circle cx="267.7" cy="389.5" r="2.4"/><circle cx="345.8" cy="322.5" r="2.4"/><circle cx="187.5" cy="345.4" r="2.4"/><circle cx="278.5" cy="353.5" r="2.4"/><circle cx="295.2" cy="412.0" r="2.4"/><circle cx="185.9" cy="425.2" r="2.4"/><circle cx="191.5" cy="371.2" r="2.4"/><circle cx="275.8" cy="379.3" r="2.4"/><circle cx="287.8" cy="396.0" r="2.4"/><circle cx="173.2" cy="283.5" r="2.4"/><circle cx="181.8" cy="405.1" r="2.4"/><circle cx="270.4" cy="340.5" r="2.4"/><circle cx="278.6" cy="397.3" r="2.4"/><circle cx="160.1" cy="398.4" r="2.4"/><circle cx="166.7" cy="412.5" r="2.4"/><circle cx="272.6" cy="407.3" r="2.4"/><circle cx="273.7" cy="388.4" r="2.4"/><circle cx="180.8" cy="365.6" r="2.4"/><circle cx="281.0" cy="418.5" r="2.4"/><circle cx="173.3" cy="424.9" r="2.4"/><circle cx="282.5" cy="430.1" r="2.4"/><circle cx="267.1" cy="396.7" r="2.4"/><circle cx="114.8" cy="331.1" r="2.4"/><circle cx="166.0" cy="373.7" r="2.4"/><circle cx="173.0" cy="423.3" r="2.4"/><circle cx="179.1" cy="429.3" r="2.4"/><circle cx="178.0" cy="429.1" r="2.4"/><circle cx="261.2" cy="398.6" r="2.4"/><circle cx="390.8" cy="239.6" r="2.4"/><circle cx="311.3" cy="402.2" r="2.4"/><circle cx="289.7" cy="422.7" r="2.4"/><circle cx="268.7" cy="405.0" r="2.4"/><circle cx="189.9" cy="396.0" r="2.4"/></g>
<g fill="#727272" stroke="#242424" stroke-width="0.9"><circle cx="366.7" cy="239.6" r="2.4"/><circle cx="281.7" cy="280.4" r="2.4"/><circle cx="158.0" cy="401.4" r="2.4"/><circle cx="160.6" cy="350.8" r="2.4"/><circle cx="189.4" cy="397.8" r="2.4"/><circle cx="318.9" cy="371.0" r="2.4"/><circle cx="186.2" cy="333.3" r="2.4"/><circle cx="290.0" cy="251.2" r="2.4"/><circle cx="187.9" cy="418.0" r="2.4"/><circle cx="288.4" cy="343.2" r="2.4"/><circle cx="191.5" cy="389.3" r="2.4"/><circle cx="162.5" cy="416.0" r="2.4"/><circle cx="296.6" cy="239.6" r="2.4"/><circle cx="285.6" cy="421.3" r="2.4"/><circle cx="194.0" cy="400.8" r="2.4"/><circle cx="187.6" cy="419.0" r="2.4"/><circle cx="162.6" cy="407.5" r="2.4"/><circle cx="334.0" cy="239.6" r="2.4"/><circle cx="195.2" cy="402.9" r="2.4"/><circle cx="267.7" cy="396.4" r="2.4"/><circle cx="283.9" cy="330.6" r="2.4"/><circle cx="186.9" cy="400.0" r="2.4"/><circle cx="172.4" cy="377.4" r="2.4"/><circle cx="196.9" cy="411.1" r="2.4"/><circle cx="155.8" cy="398.5" r="2.4"/><circle cx="346.2" cy="239.6" r="2.4"/><circle cx="275.0" cy="414.7" r="2.4"/><circle cx="190.3" cy="403.3" r="2.4"/><circle cx="176.3" cy="408.2" r="2.4"/><circle cx="296.0" cy="293.7" r="2.4"/><circle cx="179.7" cy="387.0" r="2.4"/><circle cx="268.2" cy="393.8" r="2.4"/><circle cx="191.5" cy="399.6" r="2.4"/><circle cx="187.2" cy="415.6" r="2.4"/><circle cx="284.7" cy="416.1" r="2.4"/><circle cx="295.8" cy="415.5" r="2.4"/><circle cx="286.4" cy="412.3" r="2.4"/><circle cx="292.4" cy="424.9" r="2.4"/><circle cx="184.1" cy="424.4" r="2.4"/><circle cx="366.2" cy="248.7" r="2.4"/></g>
<g fill="#727272" stroke="#242424" stroke-width="0.9"><circle cx="276.7" cy="380.2" r="2.4"/><circle cx="286.5" cy="350.8" r="2.4"/><circle cx="316.2" cy="400.4" r="2.4"/><circle cx="265.8" cy="414.5" r="2.4"/><circle cx="293.3" cy="298.3" r="2.4"/><circle cx="197.2" cy="396.4" r="2.4"/><circle cx="335.5" cy="301.8" r="2.4"/><circle cx="295.4" cy="404.1" r="2.4"/><circle cx="281.9" cy="405.4" r="2.4"/><circle cx="181.9" cy="383.7" r="2.4"/><circle cx="299.2" cy="417.7" r="2.4"/><circle cx="140.5" cy="381.3" r="2.4"/><circle cx="272.5" cy="407.9" r="2.4"/><circle cx="337.2" cy="310.9" r="2.4"/><circle cx="263.4" cy="395.2" r="2.4"/><circle cx="193.5" cy="391.0" r="2.4"/><circle cx="290.7" cy="382.6" r="2.4"/><circle cx="187.1" cy="400.3" r="2.4"/><circle cx="310.8" cy="278.1" r="2.4"/><circle cx="176.0" cy="417.2" r="2.4"/><circle cx="278.4" cy="400.7" r="2.4"/><circle cx="329.6" cy="323.3" r="2.4"/><circle cx="188.6" cy="409.0" r="2.4"/><circle cx="162.4" cy="414.7" r="2.4"/><circle cx="356.0" cy="269.8" r="2.4"/><circle cx="292.1" cy="388.6" r="2.4"/><circle cx="178.9" cy="422.6" r="2.4"/><circle cx="192.5" cy="413.5" r="2.4"/><circle cx="294.1" cy="278.1" r="2.4"/><circle cx="286.0" cy="319.8" r="2.4"/><circle cx="267.5" cy="417.6" r="2.4"/><circle cx="284.2" cy="408.7" r="2.4"/><circle cx="300.0" cy="369.1" r="2.4"/><circle cx="285.1" cy="398.9" r="2.4"/><circle cx="260.5" cy="401.0" r="2.4"/><circle cx="176.3" cy="403.3" r="2.4"/><circle cx="174.9" cy="348.9" r="2.4"/><circle cx="274.6" cy="385.6" r="2.4"/><circle cx="280.0" cy="387.4" r="2.4"/><circle cx="184.4" cy="412.1" r="2.4"/></g>
<g fill="#262626" stroke="#0c0c0c" stroke-width="0.9"><circle cx="262.9" cy="437.7" r="2.4"/><circle cx="216.7" cy="444.6" r="2.4"/><circle cx="253.6" cy="431.4" r="2.4"/><circle cx="185.9" cy="441.3" r="2.4"/><circle cx="240.4" cy="460.3" r="2.4"/><circle cx="254.5" cy="437.1" r="2.4"/><circle cx="192.2" cy="441.4" r="2.4"/><circle cx="246.8" cy="441.1" r="2.4"/><circle cx="245.3" cy="445.1" r="2.4"/><circle cx="246.7" cy="436.6" r="2.4"/><circle cx="250.5" cy="455.8" r="2.4"/><circle cx="207.4" cy="443.5" r="2.4"/><circle cx="200.1" cy="448.0" r="2.4"/><circle cx="203.6" cy="447.7" r="2.4"/><circle cx="255.6" cy="434.5" r="2.4"/><circle cx="218.8" cy="450.2" r="2.4"/><circle cx="238.4" cy="455.8" r="2.4"/><circle cx="252.4" cy="420.8" r="2.4"/><circle cx="247.9" cy="450.4" r="2.4"/><circle cx="193.1" cy="430.8" r="2.4"/><circle cx="215.8" cy="446.5" r="2.4"/><circle cx="255.7" cy="416.3" r="2.4"/><circle cx="251.5" cy="436.0" r="2.4"/><circle cx="212.3" cy="439.9" r="2.4"/><circle cx="248.1" cy="458.2" r="2.4"/><circle cx="270.0" cy="436.1" r="2.4"/><circle cx="273.3" cy="434.1" r="2.4"/><circle cx="203.6" cy="444.9" r="2.4"/><circle cx="218.8" cy="450.0" r="2.4"/><circle cx="205.1" cy="440.3" r="2.4"/><circle cx="209.9" cy="440.1" r="2.4"/><circle cx="249.2" cy="440.4" r="2.4"/><circle cx="212.8" cy="438.9" r="2.4"/><circle cx="192.9" cy="442.5" r="2.4"/><circle cx="194.0" cy="443.8" r="2.4"/><circle cx="204.2" cy="420.8" r="2.4"/><circle cx="208.0" cy="429.5" r="2.4"/><circle cx="255.9" cy="439.4" r="2.4"/><circle cx="253.1" cy="423.1" r="2.4"/><circle cx="207.7" cy="424.1" r="2.4"/></g>
<g fill="#727272" stroke="#242424" stroke-width="0.9"><circle cx="278.1" cy="405.8" r="2.4"/><circle cx="164.6" cy="400.9" r="2.4"/><circle cx="303.9" cy="406.6" r="2.4"/><circle cx="202.3" cy="411.3" r="2.4"/><circle cx="264.0" cy="398.0" r="2.4"/><circle cx="189.3" cy="379.1" r="2.4"/><circle cx="170.5" cy="372.3" r="2.4"/><circle cx="156.0" cy="416.4" r="2.4"/><circle cx="271.2" cy="411.2" r="2.4"/><circle cx="190.4" cy="377.9" r="2.4"/><circle cx="286.4" cy="419.8" r="2.4"/><circle cx="159.8" cy="391.0" r="2.4"/><circle cx="283.9" cy="371.0" r="2.4"/><circle cx="295.2" cy="395.4" r="2.4"/><circle cx="165.6" cy="277.5" r="2.4"/><circle cx="185.3" cy="391.8" r="2.4"/><circle cx="167.3" cy="369.6" r="2.4"/><circle cx="277.4" cy="389.6" r="2.4"/><circle cx="183.3" cy="421.3" r="2.4"/><circle cx="307.1" cy="379.6" r="2.4"/><circle cx="296.7" cy="420.4" r="2.4"/><circle cx="275.8" cy="370.2" r="2.4"/><circle cx="186.6" cy="402.6" r="2.4"/><circle cx="267.1" cy="384.6" r="2.4"/><circle cx="193.0" cy="385.9" r="2.4"/><circle cx="294.6" cy="413.0" r="2.4"/><circle cx="280.4" cy="427.1" r="2.4"/><circle cx="167.3" cy="315.8" r="2.4"/><circle cx="162.5" cy="296.9" r="2.4"/><circle cx="289.8" cy="350.8" r="2.4"/><circle cx="181.6" cy="397.6" r="2.4"/><circle cx="322.9" cy="343.2" r="2.4"/><circle cx="165.7" cy="422.7" r="2.4"/><circle cx="305.9" cy="385.8" r="2.4"/><circle cx="327.0" cy="239.6" r="2.4"/><circle cx="290.4" cy="276.5" r="2.4"/><circle cx="284.0" cy="391.7" r="2.4"/><circle cx="266.1" cy="397.3" r="2.4"/><circle cx="272.1" cy="394.8" r="2.4"/><circle cx="161.5" cy="404.5" r="2.4"/></g>
<g fill="#262626" stroke="#0c0c0c" stroke-width="0.9"><circle cx="251.3" cy="442.2" r="2.4"/><circle cx="203.4" cy="431.9" r="2.4"/><circle cx="236.9" cy="457.5" r="2.4"/><circle cx="191.7" cy="429.3" r="2.4"/><circle cx="242.7" cy="450.1" r="2.4"/><circle cx="255.8" cy="446.2" r="2.4"/><circle cx="246.7" cy="448.8" r="2.4"/><circle cx="249.9" cy="439.7" r="2.4"/><circle cx="203.3" cy="427.2" r="2.4"/><circle cx="221.6" cy="455.5" r="2.4"/><circle cx="210.7" cy="453.6" r="2.4"/><circle cx="260.9" cy="441.9" r="2.4"/><circle cx="209.4" cy="426.4" r="2.4"/><circle cx="224.0" cy="456.3" r="2.4"/><circle cx="217.9" cy="449.4" r="2.4"/><circle cx="243.8" cy="444.5" r="2.4"/><circle cx="253.0" cy="438.4" r="2.4"/><circle cx="216.3" cy="450.3" r="2.4"/><circle cx="224.0" cy="456.1" r="2.4"/><circle cx="204.5" cy="432.9" r="2.4"/><circle cx="189.8" cy="440.7" r="2.4"/><circle cx="262.7" cy="424.4" r="2.4"/><circle cx="266.2" cy="427.9" r="2.4"/><circle cx="203.0" cy="438.6" r="2.4"/><circle cx="210.3" cy="428.9" r="2.4"/><circle cx="232.2" cy="462.1" r="2.4"/><circle cx="260.4" cy="423.4" r="2.4"/><circle cx="247.5" cy="438.7" r="2.4"/><circle cx="211.8" cy="433.4" r="2.4"/><circle cx="205.6" cy="420.9" r="2.4"/><circle cx="222.0" cy="454.9" r="2.4"/><circle cx="192.0" cy="445.7" r="2.4"/><circle cx="210.1" cy="455.0" r="2.4"/><circle cx="248.9" cy="438.1" r="2.4"/><circle cx="241.6" cy="451.7" r="2.4"/><circle cx="257.4" cy="423.7" r="2.4"/><circle cx="189.9" cy="438.8" r="2.4"/><circle cx="247.8" cy="435.0" r="2.4"/><circle cx="211.5" cy="429.1" r="2.4"/><circle cx="250.7" cy="443.3" r="2.4"/></g>
<g fill="#383838" stroke="#131313" stroke-width="0.9"><circle cx="262.9" cy="422.9" r="2.4"/><circle cx="205.5" cy="414.9" r="2.4"/><circle cx="202.5" cy="418.0" r="2.4"/><circle cx="259.4" cy="424.0" r="2.4"/><circle cx="198.4" cy="423.3" r="2.4"/><circle cx="191.0" cy="422.1" r="2.4"/><circle cx="201.6" cy="414.1" r="2.4"/><circle cx="189.5" cy="429.8" r="2.4"/><circle cx="184.0" cy="432.2" r="2.4"/><circle cx="188.6" cy="441.8" r="2.4"/><circle cx="207.2" cy="416.6" r="2.4"/><circle cx="271.6" cy="426.2" r="2.4"/><circle cx="186.9" cy="440.2" r="2.4"/><circle cx="188.4" cy="428.6" r="2.4"/><circle cx="255.6" cy="417.0" r="2.4"/><circle cx="204.8" cy="417.3" r="2.4"/><circle cx="270.9" cy="428.3" r="2.4"/><circle cx="205.6" cy="415.7" r="2.4"/><circle cx="280.2" cy="438.1" r="2.4"/><circle cx="186.0" cy="434.3" r="2.4"/><circle cx="279.2" cy="442.9" r="2.4"/><circle cx="259.3" cy="419.4" r="2.4"/><circle cx="260.8" cy="416.6" r="2.4"/><circle cx="202.7" cy="418.6" r="2.4"/><circle cx="188.1" cy="430.0" r="2.4"/><circle cx="259.1" cy="420.2" r="2.4"/><circle cx="260.2" cy="418.3" r="2.4"/><circle cx="277.9" cy="434.9" r="2.4"/><circle cx="201.0" cy="417.8" r="2.4"/><circle cx="272.7" cy="429.0" r="2.4"/><circle cx="253.8" cy="418.1" r="2.4"/><circle cx="196.2" cy="424.4" r="2.4"/><circle cx="186.6" cy="438.2" r="2.4"/><circle cx="201.8" cy="418.2" r="2.4"/><circle cx="183.1" cy="436.8" r="2.4"/><circle cx="257.0" cy="419.5" r="2.4"/><circle cx="268.0" cy="426.5" r="2.4"/><circle cx="257.9" cy="418.9" r="2.4"/><circle cx="271.0" cy="427.3" r="2.4"/><circle cx="260.9" cy="418.0" r="2.4"/></g>
<g fill="#727272" stroke="#242424" stroke-width="0.9"><circle cx="189.1" cy="413.8" r="2.4"/><circle cx="182.6" cy="395.5" r="2.4"/><circle cx="264.3" cy="408.3" r="2.4"/><circle cx="272.2" cy="403.4" r="2.4"/><circle cx="173.3" cy="403.4" r="2.4"/><circle cx="294.6" cy="368.3" r="2.4"/><circle cx="300.5" cy="371.8" r="2.4"/><circle cx="324.2" cy="381.5" r="2.4"/><circle cx="282.0" cy="420.5" r="2.4"/><circle cx="176.7" cy="422.7" r="2.4"/><circle cx="188.1" cy="397.9" r="2.4"/><circle cx="292.1" cy="406.3" r="2.4"/><circle cx="264.6" cy="409.6" r="2.4"/><circle cx="272.7" cy="416.6" r="2.4"/><circle cx="161.9" cy="287.5" r="2.4"/><circle cx="192.5" cy="411.6" r="2.4"/><circle cx="141.1" cy="388.7" r="2.4"/><circle cx="189.2" cy="411.7" r="2.4"/><circle cx="275.1" cy="372.9" r="2.4"/><circle cx="180.7" cy="418.2" r="2.4"/><circle cx="346.3" cy="346.7" r="2.4"/><circle cx="196.8" cy="390.7" r="2.4"/><circle cx="333.7" cy="372.9" r="2.4"/><circle cx="191.1" cy="392.7" r="2.4"/><circle cx="286.3" cy="404.9" r="2.4"/><circle cx="287.6" cy="418.9" r="2.4"/><circle cx="296.0" cy="408.0" r="2.4"/><circle cx="306.7" cy="309.0" r="2.4"/><circle cx="187.9" cy="389.0" r="2.4"/><circle cx="176.1" cy="410.0" r="2.4"/><circle cx="297.3" cy="358.9" r="2.4"/><circle cx="298.2" cy="425.7" r="2.4"/><circle cx="149.0" cy="377.5" r="2.4"/><circle cx="292.0" cy="386.6" r="2.4"/><circle cx="297.3" cy="315.8" r="2.4"/><circle cx="281.7" cy="306.9" r="2.4"/><circle cx="260.0" cy="399.2" r="2.4"/><circle cx="180.2" cy="361.0" r="2.4"/><circle cx="267.4" cy="415.4" r="2.4"/><circle cx="286.1" cy="416.6" r="2.4"/></g>
<g fill="#262626" stroke="#0c0c0c" stroke-width="0.9"><circle cx="210.6" cy="445.4" r="2.4"/><circle cx="210.3" cy="428.0" r="2.4"/><circle cx="216.4" cy="449.1" r="2.4"/><circle cx="262.3" cy="440.8" r="2.4"/><circle cx="213.3" cy="457.2" r="2.4"/><circle cx="272.9" cy="436.8" r="2.4"/><circle cx="260.8" cy="443.4" r="2.4"/><circle cx="199.3" cy="446.0" r="2.4"/><circle cx="252.0" cy="436.0" r="2.4"/><circle cx="222.1" cy="458.3" r="2.4"/><circle cx="214.7" cy="439.8" r="2.4"/><circle cx="200.1" cy="440.3" r="2.4"/><circle cx="204.2" cy="436.6" r="2.4"/><circle cx="204.3" cy="446.1" r="2.4"/><circle cx="209.7" cy="441.4" r="2.4"/><circle cx="261.4" cy="451.8" r="2.4"/><circle cx="249.6" cy="429.6" r="2.4"/><circle cx="264.8" cy="446.3" r="2.4"/><circle cx="254.6" cy="425.4" r="2.4"/><circle cx="260.7" cy="425.3" r="2.4"/><circle cx="209.6" cy="433.2" r="2.4"/><circle cx="211.8" cy="438.0" r="2.4"/><circle cx="196.1" cy="442.2" r="2.4"/><circle cx="262.0" cy="433.5" r="2.4"/><circle cx="255.1" cy="444.6" r="2.4"/><circle cx="193.8" cy="430.2" r="2.4"/><circle cx="255.2" cy="422.2" r="2.4"/><circle cx="207.3" cy="449.8" r="2.4"/><circle cx="205.8" cy="421.5" r="2.4"/><circle cx="203.1" cy="436.8" r="2.4"/><circle cx="247.9" cy="442.7" r="2.4"/><circle cx="200.0" cy="423.4" r="2.4"/><circle cx="255.7" cy="421.0" r="2.4"/><circle cx="259.6" cy="451.4" r="2.4"/><circle cx="211.1" cy="450.8" r="2.4"/><circle cx="258.1" cy="438.4" r="2.4"/><circle cx="218.3" cy="456.5" r="2.4"/><circle cx="252.1" cy="451.8" r="2.4"/><circle cx="254.7" cy="446.0" r="2.4"/><circle cx="268.4" cy="430.8" r="2.4"/></g>
<g fill="#727272" stroke="#242424" stroke-width="0.9"><circle cx="193.9" cy="401.1" r="2.4"/><circle cx="187.3" cy="419.2" r="2.4"/><circle cx="258.6" cy="406.5" r="2.4"/><circle cx="331.0" cy="348.1" r="2.4"/><circle cx="297.8" cy="425.3" r="2.4"/><circle cx="195.5" cy="403.9" r="2.4"/><circle cx="274.2" cy="412.8" r="2.4"/><circle cx="301.8" cy="239.6" r="2.4"/><circle cx="264.1" cy="410.8" r="2.4"/><circle cx="192.6" cy="401.5" r="2.4"/><circle cx="191.9" cy="395.3" r="2.4"/><circle cx="184.0" cy="327.9" r="2.4"/><circle cx="179.9" cy="427.2" r="2.4"/><circle cx="195.5" cy="405.2" r="2.4"/><circle cx="181.1" cy="412.3" r="2.4"/><circle cx="310.4" cy="399.2" r="2.4"/><circle cx="262.7" cy="399.8" r="2.4"/><circle cx="196.4" cy="390.6" r="2.4"/><circle cx="195.7" cy="395.2" r="2.4"/><circle cx="194.2" cy="395.0" r="2.4"/><circle cx="262.7" cy="397.5" r="2.4"/><circle cx="381.5" cy="250.2" r="2.4"/><circle cx="316.8" cy="239.6" r="2.4"/><circle cx="288.5" cy="376.6" r="2.4"/><circle cx="196.1" cy="411.1" r="2.4"/><circle cx="197.7" cy="396.5" r="2.4"/><circle cx="295.8" cy="278.5" r="2.4"/><circle cx="199.2" cy="395.7" r="2.4"/><circle cx="191.2" cy="388.5" r="2.4"/><circle cx="318.9" cy="392.8" r="2.4"/><circle cx="275.7" cy="417.0" r="2.4"/><circle cx="273.1" cy="344.9" r="2.4"/><circle cx="298.3" cy="420.5" r="2.4"/><circle cx="294.4" cy="255.8" r="2.4"/><circle cx="301.8" cy="384.2" r="2.4"/><circle cx="174.2" cy="415.2" r="2.4"/><circle cx="281.2" cy="422.6" r="2.4"/><circle cx="169.2" cy="405.8" r="2.4"/><circle cx="267.7" cy="385.0" r="2.4"/><circle cx="289.7" cy="374.8" r="2.4"/></g>
<g fill="#262626" stroke="#0c0c0c" stroke-width="0.9"><circle cx="250.0" cy="426.8" r="2.4"/><circle cx="251.7" cy="440.8" r="2.4"/><circle cx="244.2" cy="442.5" r="2.4"/><circle cx="210.4" cy="431.1" r="2.4"/><circle cx="266.5" cy="430.5" r="2.4"/><circle cx="208.8" cy="427.7" r="2.4"/><circle cx="259.7" cy="429.9" r="2.4"/><circle cx="224.8" cy="458.3" r="2.4"/><circle cx="268.0" cy="443.0" r="2.4"/><circle cx="212.3" cy="437.1" r="2.4"/><circle cx="195.3" cy="446.7" r="2.4"/><circle cx="258.9" cy="444.7" r="2.4"/><circle cx="252.0" cy="453.7" r="2.4"/><circle cx="243.0" cy="447.8" r="2.4"/><circle cx="252.5" cy="430.5" r="2.4"/><circle cx="212.9" cy="437.8" r="2.4"/><circle cx="239.4" cy="452.9" r="2.4"/><circle cx="264.8" cy="435.6" r="2.4"/><circle cx="190.2" cy="443.5" r="2.4"/><circle cx="213.5" cy="455.4" r="2.4"/><circle cx="201.5" cy="421.6" r="2.4"/><circle cx="203.1" cy="428.1" r="2.4"/><circle cx="255.1" cy="441.3" r="2.4"/><circle cx="206.8" cy="435.7" r="2.4"/><circle cx="248.6" cy="444.1" r="2.4"/><circle cx="238.0" cy="457.3" r="2.4"/><circle cx="214.1" cy="452.0" r="2.4"/><circle cx="269.0" cy="445.0" r="2.4"/><circle cx="255.7" cy="422.5" r="2.4"/><circle cx="200.1" cy="434.6" r="2.4"/><circle cx="258.1" cy="429.7" r="2.4"/><circle cx="213.2" cy="434.9" r="2.4"/><circle cx="205.0" cy="432.7" r="2.4"/><circle cx="259.0" cy="423.4" r="2.4"/><circle cx="207.8" cy="442.7" r="2.4"/><circle cx="263.3" cy="435.2" r="2.4"/><circle cx="261.3" cy="448.3" r="2.4"/><circle cx="244.6" cy="445.2" r="2.4"/><circle cx="259.4" cy="428.1" r="2.4"/><circle cx="211.9" cy="439.5" r="2.4"/></g>
<g fill="#727272" stroke="#242424" stroke-width="0.9"><circle cx="171.3" cy="378.5" r="2.4"/><circle cx="302.7" cy="342.2" r="2.4"/><circle cx="191.0" cy="409.3" r="2.4"/><circle cx="281.0" cy="422.7" r="2.4"/><circle cx="305.0" cy="239.6" r="2.4"/><circle cx="295.4" cy="336.0" r="2.4"/><circle cx="188.8" cy="391.4" r="2.4"/><circle cx="184.4" cy="410.8" r="2.4"/><circle cx="298.7" cy="424.6" r="2.4"/><circle cx="299.5" cy="333.3" r="2.4"/><circle cx="200.1" cy="399.0" r="2.4"/><circle cx="272.1" cy="400.1" r="2.4"/><circle cx="331.0" cy="270.8" r="2.4"/><circle cx="281.2" cy="318.5" r="2.4"/><circle cx="182.0" cy="422.4" r="2.4"/><circle cx="171.4" cy="310.4" r="2.4"/><circle cx="286.6" cy="424.3" r="2.4"/><circle cx="278.1" cy="419.0" r="2.4"/><circle cx="194.7" cy="384.7" r="2.4"/><circle cx="171.9" cy="418.5" r="2.4"/><circle cx="183.3" cy="394.0" r="2.4"/><circle cx="179.7" cy="425.6" r="2.4"/><circle cx="192.4" cy="406.8" r="2.4"/><circle cx="290.6" cy="275.9" r="2.4"/><circle cx="276.0" cy="407.8" r="2.4"/><circle cx="182.4" cy="376.5" r="2.4"/><circle cx="278.0" cy="427.2" r="2.4"/><circle cx="295.0" cy="239.6" r="2.4"/><circle cx="261.6" cy="395.4" r="2.4"/><circle cx="274.5" cy="416.8" r="2.4"/><circle cx="162.0" cy="418.6" r="2.4"/><circle cx="174.6" cy="424.9" r="2.4"/><circle cx="189.1" cy="383.6" r="2.4"/><circle cx="190.1" cy="385.0" r="2.4"/><circle cx="276.1" cy="384.2" r="2.4"/><circle cx="283.0" cy="410.0" r="2.4"/><circle cx="189.7" cy="411.8" r="2.4"/><circle cx="286.1" cy="418.2" r="2.4"/><circle cx="274.8" cy="376.0" r="2.4"/><circle cx="293.2" cy="239.6" r="2.4"/></g>
<g fill="#262626" stroke="#0c0c0c" stroke-width="0.9"><circle cx="208.7" cy="452.3" r="2.4"/><circle cx="189.3" cy="437.1" r="2.4"/><circle cx="212.3" cy="450.5" r="2.4"/><circle cx="265.9" cy="432.7" r="2.4"/><circle cx="240.3" cy="453.8" r="2.4"/><circle cx="245.6" cy="451.3" r="2.4"/><circle cx="204.2" cy="421.0" r="2.4"/><circle cx="217.4" cy="444.3" r="2.4"/><circle cx="250.3" cy="433.7" r="2.4"/><circle cx="255.0" cy="440.0" r="2.4"/><circle cx="212.5" cy="437.5" r="2.4"/><circle cx="252.8" cy="445.7" r="2.4"/><circle cx="247.6" cy="434.8" r="2.4"/><circle cx="202.6" cy="444.4" r="2.4"/><circle cx="275.9" cy="438.3" r="2.4"/><circle cx="270.4" cy="438.4" r="2.4"/><circle cx="254.2" cy="450.7" r="2.4"/><circle cx="206.7" cy="430.6" r="2.4"/><circle cx="207.1" cy="439.8" r="2.4"/><circle cx="261.1" cy="443.8" r="2.4"/><circle cx="212.3" cy="440.9" r="2.4"/><circle cx="243.4" cy="450.2" r="2.4"/><circle cx="264.0" cy="441.7" r="2.4"/><circle cx="260.3" cy="434.2" r="2.4"/><circle cx="243.8" cy="443.3" r="2.4"/><circle cx="250.3" cy="453.1" r="2.4"/><circle cx="252.0" cy="430.2" r="2.4"/><circle cx="251.7" cy="438.1" r="2.4"/><circle cx="207.2" cy="422.0" r="2.4"/><circle cx="224.7" cy="459.4" r="2.4"/><circle cx="258.4" cy="438.9" r="2.4"/><circle cx="212.3" cy="442.2" r="2.4"/><circle cx="193.4" cy="441.4" r="2.4"/><circle cx="243.5" cy="444.2" r="2.4"/><circle cx="213.6" cy="454.8" r="2.4"/><circle cx="262.9" cy="429.7" r="2.4"/><circle cx="218.3" cy="445.3" r="2.4"/><circle cx="276.7" cy="442.6" r="2.4"/><circle cx="207.9" cy="435.5" r="2.4"/><circle cx="205.3" cy="436.1" r="2.4"/></g>
<g fill="#727272" stroke="#242424" stroke-width="0.9"><circle cx="172.6" cy="393.2" r="2.4"/><circle cx="294.0" cy="413.5" r="2.4"/><circle cx="274.6" cy="394.8" r="2.4"/><circle cx="277.0" cy="393.1" r="2.4"/><circle cx="293.3" cy="425.1" r="2.4"/><circle cx="262.1" cy="401.8" r="2.4"/><circle cx="131.0" cy="366.9" r="2.4"/><circle cx="139.8" cy="321.2" r="2.4"/><circle cx="321.5" cy="274.0" r="2.4"/><circle cx="168.7" cy="307.7" r="2.4"/><circle cx="196.1" cy="401.2" r="2.4"/><circle cx="271.1" cy="387.2" r="2.4"/><circle cx="322.0" cy="239.6" r="2.4"/><circle cx="178.9" cy="319.8" r="2.4"/><circle cx="289.7" cy="415.2" r="2.4"/><circle cx="182.3" cy="383.2" r="2.4"/><circle cx="182.4" cy="380.8" r="2.4"/><circle cx="169.5" cy="418.1" r="2.4"/><circle cx="146.8" cy="241.4" r="2.4"/><circle cx="341.2" cy="239.6" r="2.4"/><circle cx="180.2" cy="410.0" r="2.4"/><circle cx="176.7" cy="416.3" r="2.4"/><circle cx="196.0" cy="387.3" r="2.4"/><circle cx="282.3" cy="426.5" r="2.4"/><circle cx="291.5" cy="383.3" r="2.4"/><circle cx="278.5" cy="403.8" r="2.4"/><circle cx="265.4" cy="404.8" r="2.4"/><circle cx="188.0" cy="400.9" r="2.4"/><circle cx="284.5" cy="425.2" r="2.4"/><circle cx="148.5" cy="405.8" r="2.4"/><circle cx="187.3" cy="408.6" r="2.4"/><circle cx="176.3" cy="386.3" r="2.4"/><circle cx="141.2" cy="392.3" r="2.4"/><circle cx="157.9" cy="409.0" r="2.4"/></g>
<g fill="#727272" stroke="#242424" stroke-width="0.9"><circle cx="266.3" cy="403.1" r="2.4"/><circle cx="260.9" cy="413.4" r="2.4"/><circle cx="200.5" cy="404.1" r="2.4"/><circle cx="196.8" cy="407.3" r="2.4"/><circle cx="186.6" cy="384.5" r="2.4"/><circle cx="189.4" cy="398.7" r="2.4"/><circle cx="285.8" cy="383.5" r="2.4"/><circle cx="272.0" cy="386.2" r="2.4"/><circle cx="197.8" cy="402.1" r="2.4"/><circle cx="304.0" cy="317.9" r="2.4"/><circle cx="261.3" cy="404.5" r="2.4"/><circle cx="164.1" cy="355.4" r="2.4"/><circle cx="262.2" cy="395.3" r="2.4"/><circle cx="258.4" cy="402.5" r="2.4"/><circle cx="185.6" cy="297.7" r="2.4"/><circle cx="192.6" cy="407.7" r="2.4"/><circle cx="182.1" cy="419.8" r="2.4"/><circle cx="267.6" cy="406.0" r="2.4"/><circle cx="181.4" cy="425.2" r="2.4"/><circle cx="265.6" cy="397.9" r="2.4"/><circle cx="271.5" cy="410.3" r="2.4"/><circle cx="194.8" cy="356.2" r="2.4"/><circle cx="310.8" cy="407.1" r="2.4"/><circle cx="294.2" cy="401.2" r="2.4"/><circle cx="163.0" cy="382.4" r="2.4"/><circle cx="294.4" cy="389.0" r="2.4"/><circle cx="181.7" cy="417.8" r="2.4"/><circle cx="281.9" cy="381.1" r="2.4"/><circle cx="198.4" cy="403.9" r="2.4"/><circle cx="178.1" cy="369.6" r="2.4"/><circle cx="310.0" cy="239.6" r="2.4"/><circle cx="172.3" cy="398.2" r="2.4"/><circle cx="203.4" cy="406.9" r="2.4"/><circle cx="265.4" cy="411.8" r="2.4"/><circle cx="273.4" cy="381.0" r="2.4"/><circle cx="281.5" cy="411.9" r="2.4"/><circle cx="263.4" cy="417.6" r="2.4"/><circle cx="283.8" cy="429.9" r="2.4"/><circle cx="355.2" cy="270.8" r="2.4"/><circle cx="287.4" cy="305.0" r="2.4"/></g>
<g fill="#262626" stroke="#0c0c0c" stroke-width="0.9"><circle cx="253.4" cy="431.5" r="2.4"/><circle cx="208.8" cy="441.1" r="2.4"/><circle cx="213.8" cy="440.8" r="2.4"/><circle cx="265.2" cy="435.1" r="2.4"/><circle cx="261.1" cy="433.1" r="2.4"/><circle cx="249.3" cy="437.4" r="2.4"/><circle cx="266.8" cy="432.7" r="2.4"/><circle cx="211.1" cy="454.5" r="2.4"/><circle cx="274.3" cy="440.2" r="2.4"/><circle cx="252.3" cy="439.2" r="2.4"/><circle cx="219.5" cy="447.6" r="2.4"/><circle cx="213.0" cy="445.5" r="2.4"/><circle cx="202.8" cy="426.3" r="2.4"/><circle cx="209.6" cy="453.5" r="2.4"/><circle cx="245.1" cy="444.8" r="2.4"/><circle cx="255.8" cy="427.4" r="2.4"/><circle cx="192.6" cy="438.7" r="2.4"/><circle cx="210.2" cy="444.7" r="2.4"/><circle cx="249.3" cy="434.0" r="2.4"/><circle cx="215.8" cy="447.9" r="2.4"/><circle cx="267.3" cy="433.5" r="2.4"/><circle cx="248.0" cy="443.2" r="2.4"/><circle cx="205.3" cy="423.2" r="2.4"/><circle cx="247.3" cy="436.6" r="2.4"/><circle cx="251.5" cy="442.9" r="2.4"/><circle cx="255.9" cy="447.9" r="2.4"/><circle cx="260.3" cy="434.3" r="2.4"/><circle cx="242.1" cy="448.5" r="2.4"/><circle cx="253.8" cy="434.5" r="2.4"/><circle cx="198.8" cy="430.2" r="2.4"/><circle cx="276.9" cy="442.2" r="2.4"/><circle cx="209.1" cy="441.9" r="2.4"/><circle cx="247.0" cy="447.3" r="2.4"/><circle cx="226.1" cy="459.9" r="2.4"/><circle cx="238.8" cy="456.3" r="2.4"/><circle cx="269.1" cy="439.8" r="2.4"/><circle cx="249.4" cy="440.7" r="2.4"/><circle cx="197.4" cy="434.1" r="2.4"/><circle cx="253.4" cy="428.9" r="2.4"/><circle cx="208.7" cy="420.3" r="2.4"/></g>
<g fill="#727272" stroke="#242424" stroke-width="0.9"><circle cx="137.0" cy="239.5" r="2.4"/><circle cx="160.6" cy="421.9" r="2.4"/><circle cx="175.9" cy="415.3" r="2.4"/><circle cx="279.8" cy="408.9" r="2.4"/><circle cx="262.7" cy="408.7" r="2.4"/><circle cx="171.1" cy="394.0" r="2.4"/><circle cx="271.5" cy="414.2" r="2.4"/><circle cx="186.2" cy="405.3" r="2.4"/><circle cx="193.0" cy="396.0" r="2.4"/><circle cx="268.6" cy="382.6" r="2.4"/><circle cx="276.9" cy="418.8" r="2.4"/><circle cx="142.6" cy="399.9" r="2.4"/><circle cx="189.3" cy="415.1" r="2.4"/><circle cx="285.2" cy="415.2" r="2.4"/><circle cx="158.6" cy="421.6" r="2.4"/><circle cx="311.7" cy="277.5" r="2.4"/><circle cx="278.6" cy="424.5" r="2.4"/><circle cx="265.7" cy="406.4" r="2.4"/><circle cx="309.4" cy="344.3" r="2.4"/><circle cx="188.3" cy="362.1" r="2.4"/><circle cx="155.1" cy="418.7" r="2.4"/><circle cx="173.5" cy="417.2" r="2.4"/><circle cx="142.5" cy="396.3" r="2.4"/><circle cx="179.8" cy="424.7" r="2.4"/><circle cx="270.1" cy="419.9" r="2.4"/><circle cx="187.9" cy="419.3" r="2.4"/><circle cx="274.0" cy="399.6" r="2.4"/><circle cx="164.6" cy="426.0" r="2.4"/><circle cx="183.0" cy="404.3" r="2.4"/><circle cx="330.4" cy="239.6" r="2.4"/><circle cx="272.3" cy="396.1" r="2.4"/><circle cx="375.0" cy="239.6" r="2.4"/><circle cx="308.1" cy="404.4" r="2.4"/><circle cx="193.7" cy="394.2" r="2.4"/><circle cx="268.0" cy="392.3" r="2.4"/><circle cx="184.9" cy="401.9" r="2.4"/><circle cx="194.2" cy="390.0" r="2.4"/><circle cx="172.0" cy="273.7" r="2.4"/><circle cx="182.8" cy="403.0" r="2.4"/><circle cx="303.3" cy="399.3" r="2.4"/></g>
<g fill="#262626" stroke="#0c0c0c" stroke-width="0.9"><circle cx="248.4" cy="433.2" r="2.4"/><circle cx="250.9" cy="441.3" r="2.4"/><circle cx="207.0" cy="422.6" r="2.4"/><circle cx="190.2" cy="430.8" r="2.4"/><circle cx="204.6" cy="434.8" r="2.4"/><circle cx="215.3" cy="448.7" r="2.4"/><circle cx="202.4" cy="427.8" r="2.4"/><circle cx="198.1" cy="427.9" r="2.4"/><circle cx="209.6" cy="437.7" r="2.4"/><circle cx="201.4" cy="447.0" r="2.4"/><circle cx="208.1" cy="428.6" r="2.4"/><circle cx="210.6" cy="447.4" r="2.4"/><circle cx="201.4" cy="445.7" r="2.4"/><circle cx="204.6" cy="452.7" r="2.4"/><circle cx="209.3" cy="450.6" r="2.4"/><circle cx="268.4" cy="437.9" r="2.4"/><circle cx="241.1" cy="454.6" r="2.4"/><circle cx="196.6" cy="434.0" r="2.4"/><circle cx="201.9" cy="422.6" r="2.4"/><circle cx="211.2" cy="442.7" r="2.4"/><circle cx="253.6" cy="425.9" r="2.4"/><circle cx="255.2" cy="448.1" r="2.4"/><circle cx="267.6" cy="431.0" r="2.4"/><circle cx="204.4" cy="420.2" r="2.4"/><circle cx="272.5" cy="437.8" r="2.4"/><circle cx="256.9" cy="431.9" r="2.4"/><circle cx="274.5" cy="433.0" r="2.4"/><circle cx="210.3" cy="435.3" r="2.4"/><circle cx="241.0" cy="451.6" r="2.4"/><circle cx="211.2" cy="432.8" r="2.4"/><circle cx="209.1" cy="427.0" r="2.4"/><circle cx="187.1" cy="431.0" r="2.4"/><circle cx="215.4" cy="449.9" r="2.4"/><circle cx="200.0" cy="435.6" r="2.4"/><circle cx="202.1" cy="430.2" r="2.4"/><circle cx="205.1" cy="429.9" r="2.4"/><circle cx="217.0" cy="445.8" r="2.4"/><circle cx="242.8" cy="454.9" r="2.4"/><circle cx="198.2" cy="438.6" r="2.4"/><circle cx="251.8" cy="449.3" r="2.4"/></g>
<g fill="#606060" stroke="#1f1f1f" stroke-width="0.9"><circle cx="191.7" cy="421.8" r="2.4"/><circle cx="280.7" cy="430.4" r="2.4"/><circle cx="186.7" cy="423.1" r="2.4"/><circle cx="278.6" cy="429.7" r="2.4"/><circle cx="270.0" cy="424.2" r="2.4"/><circle cx="266.5" cy="420.3" r="2.4"/><circle cx="184.4" cy="430.1" r="2.4"/><circle cx="202.0" cy="410.9" r="2.4"/><circle cx="186.1" cy="425.0" r="2.4"/><circle cx="261.1" cy="410.3" r="2.4"/><circle cx="274.6" cy="421.8" r="2.4"/><circle cx="257.9" cy="404.2" r="2.4"/><circle cx="276.6" cy="428.9" r="2.4"/><circle cx="278.0" cy="425.8" r="2.4"/><circle cx="264.1" cy="416.5" r="2.4"/><circle cx="183.0" cy="429.4" r="2.4"/><circle cx="267.9" cy="414.8" r="2.4"/><circle cx="277.5" cy="426.9" r="2.4"/><circle cx="271.5" cy="420.7" r="2.4"/><circle cx="192.5" cy="420.4" r="2.4"/><circle cx="265.3" cy="415.6" r="2.4"/><circle cx="203.2" cy="407.4" r="2.4"/><circle cx="202.5" cy="414.2" r="2.4"/><circle cx="196.8" cy="408.2" r="2.4"/><circle cx="196.6" cy="417.7" r="2.4"/><circle cx="198.3" cy="414.8" r="2.4"/><circle cx="261.8" cy="412.7" r="2.4"/></g>
<g fill="#4c4c4c" stroke="#191919" stroke-width="0.9"><circle cx="197.8" cy="419.8" r="2.4"/><circle cx="261.4" cy="415.5" r="2.4"/><circle cx="200.8" cy="416.6" r="2.4"/><circle cx="198.3" cy="416.2" r="2.4"/><circle cx="183.9" cy="430.1" r="2.4"/><circle cx="199.1" cy="417.1" r="2.4"/><circle cx="276.5" cy="429.2" r="2.4"/><circle cx="204.3" cy="414.2" r="2.4"/><circle cx="259.7" cy="416.6" r="2.4"/><circle cx="196.0" cy="421.4" r="2.4"/><circle cx="205.9" cy="411.5" r="2.4"/><circle cx="257.3" cy="409.1" r="2.4"/><circle cx="190.5" cy="426.5" r="2.4"/><circle cx="259.9" cy="414.1" r="2.4"/><circle cx="266.7" cy="421.2" r="2.4"/><circle cx="200.1" cy="418.3" r="2.4"/><circle cx="205.4" cy="410.2" r="2.4"/><circle cx="197.3" cy="415.4" r="2.4"/><circle cx="256.6" cy="413.6" r="2.4"/><circle cx="276.3" cy="431.6" r="2.4"/><circle cx="269.8" cy="418.1" r="2.4"/><circle cx="260.2" cy="417.1" r="2.4"/><circle cx="265.2" cy="422.1" r="2.4"/><circle cx="183.3" cy="430.7" r="2.4"/><circle cx="196.4" cy="418.7" r="2.4"/><circle cx="256.5" cy="407.8" r="2.4"/><circle cx="201.8" cy="411.7" r="2.4"/><circle cx="192.7" cy="425.9" r="2.4"/><circle cx="264.1" cy="419.4" r="2.4"/><circle cx="265.3" cy="421.6" r="2.4"/><circle cx="204.1" cy="410.3" r="2.4"/><circle cx="197.5" cy="419.8" r="2.4"/><circle cx="283.5" cy="435.3" r="2.4"/><circle cx="200.6" cy="413.3" r="2.4"/><circle cx="204.5" cy="410.6" r="2.4"/><circle cx="259.5" cy="415.3" r="2.4"/><circle cx="191.0" cy="427.4" r="2.4"/><circle cx="266.1" cy="422.2" r="2.4"/><circle cx="257.7" cy="415.2" r="2.4"/><circle cx="198.5" cy="417.2" r="2.4"/></g>
<g fill="#262626" stroke="#0c0c0c" stroke-width="0.9"><circle cx="225.3" cy="458.6" r="2.4"/><circle cx="274.1" cy="432.5" r="2.4"/><circle cx="252.6" cy="421.8" r="2.4"/><circle cx="255.3" cy="424.4" r="2.4"/><circle cx="265.1" cy="442.5" r="2.4"/><circle cx="250.7" cy="437.1" r="2.4"/><circle cx="257.9" cy="451.3" r="2.4"/><circle cx="206.3" cy="427.2" r="2.4"/><circle cx="215.3" cy="443.6" r="2.4"/><circle cx="208.4" cy="431.4" r="2.4"/><circle cx="241.8" cy="452.7" r="2.4"/><circle cx="211.3" cy="454.5" r="2.4"/><circle cx="224.2" cy="457.3" r="2.4"/><circle cx="257.6" cy="448.5" r="2.4"/><circle cx="248.1" cy="449.2" r="2.4"/><circle cx="201.3" cy="442.5" r="2.4"/><circle cx="255.6" cy="441.9" r="2.4"/><circle cx="207.4" cy="425.8" r="2.4"/><circle cx="245.2" cy="449.3" r="2.4"/><circle cx="247.4" cy="436.2" r="2.4"/><circle cx="259.3" cy="437.5" r="2.4"/><circle cx="217.5" cy="448.5" r="2.4"/><circle cx="194.6" cy="436.3" r="2.4"/><circle cx="251.0" cy="433.5" r="2.4"/><circle cx="212.8" cy="442.3" r="2.4"/><circle cx="207.9" cy="433.5" r="2.4"/><circle cx="248.9" cy="450.9" r="2.4"/><circle cx="221.1" cy="454.2" r="2.4"/><circle cx="212.6" cy="431.5" r="2.4"/><circle cx="203.8" cy="421.5" r="2.4"/><circle cx="251.6" cy="423.0" r="2.4"/><circle cx="209.1" cy="428.3" r="2.4"/><circle cx="249.7" cy="449.3" r="2.4"/><circle cx="203.0" cy="422.1" r="2.4"/><circle cx="250.3" cy="456.5" r="2.4"/><circle cx="256.8" cy="414.1" r="2.4"/><circle cx="245.6" cy="451.1" r="2.4"/><circle cx="252.7" cy="436.1" r="2.4"/><circle cx="211.8" cy="446.6" r="2.4"/><circle cx="256.5" cy="455.0" r="2.4"/></g>
<g fill="#606060" stroke="#1f1f1f" stroke-width="0.9"><circle cx="263.6" cy="414.4" r="2.4"/><circle cx="204.6" cy="412.4" r="2.4"/><circle cx="286.4" cy="431.6" r="2.4"/><circle cx="262.0" cy="417.6" r="2.4"/><circle cx="259.5" cy="410.1" r="2.4"/><circle cx="272.7" cy="426.2" r="2.4"/><circle cx="269.4" cy="418.7" r="2.4"/><circle cx="274.4" cy="421.8" r="2.4"/><circle cx="190.2" cy="419.7" r="2.4"/><circle cx="264.8" cy="419.6" r="2.4"/><circle cx="178.9" cy="432.3" r="2.4"/><circle cx="267.0" cy="420.9" r="2.4"/><circle cx="199.4" cy="415.7" r="2.4"/><circle cx="273.5" cy="427.9" r="2.4"/><circle cx="200.8" cy="405.8" r="2.4"/><circle cx="282.7" cy="432.7" r="2.4"/><circle cx="286.0" cy="434.6" r="2.4"/><circle cx="261.6" cy="414.2" r="2.4"/><circle cx="262.8" cy="414.5" r="2.4"/><circle cx="263.1" cy="412.9" r="2.4"/><circle cx="193.9" cy="419.4" r="2.4"/><circle cx="279.0" cy="428.5" r="2.4"/><circle cx="190.9" cy="423.1" r="2.4"/><circle cx="189.7" cy="421.9" r="2.4"/><circle cx="257.4" cy="405.3" r="2.4"/><circle cx="204.0" cy="410.2" r="2.4"/><circle cx="188.4" cy="425.3" r="2.4"/><circle cx="258.0" cy="411.0" r="2.4"/><circle cx="201.6" cy="404.3" r="2.4"/><circle cx="262.3" cy="416.4" r="2.4"/><circle cx="188.0" cy="420.1" r="2.4"/><circle cx="189.8" cy="424.8" r="2.4"/><circle cx="255.5" cy="409.9" r="2.4"/><circle cx="275.9" cy="428.4" r="2.4"/><circle cx="190.1" cy="417.6" r="2.4"/><circle cx="187.0" cy="424.8" r="2.4"/><circle cx="190.0" cy="424.8" r="2.4"/><circle cx="257.1" cy="408.1" r="2.4"/><circle cx="263.6" cy="415.2" r="2.4"/><circle cx="260.9" cy="409.9" r="2.4"/></g>
<line x1="230.9" y1="222.6" x2="230.9" y2="462" stroke="#111" stroke-width="1.4" stroke-dasharray="5.4 3.76"/>
<line x1="47.05" y1="425.0" x2="490.8" y2="425.0" stroke="#111" stroke-width="1.4" stroke-dasharray="5.8 3.95"/>
<line x1="47.7" y1="220.6" x2="47.7" y2="463.0" stroke="#111" stroke-width="1.3"/>
<line x1="47.1" y1="462.4" x2="489.0" y2="462.4" stroke="#111" stroke-width="1.4"/>
<text x="41.6" y="465.4" font-size="10.2" font-weight="700" text-anchor="end" textLength="5.4" lengthAdjust="spacingAndGlyphs">0</text>
<line x1="44.6" y1="415.7" x2="47.7" y2="415.7" stroke="#111" stroke-width="1.0"/>
<text x="41.6" y="419.3" font-size="10.2" font-weight="700" text-anchor="end" textLength="13.2" lengthAdjust="spacingAndGlyphs">2.5</text>
<line x1="44.6" y1="369.0" x2="47.7" y2="369.0" stroke="#111" stroke-width="1.0"/>
<text x="41.6" y="372.6" font-size="10.2" font-weight="700" text-anchor="end" textLength="13.2" lengthAdjust="spacingAndGlyphs">5.0</text>
<line x1="44.6" y1="322.29999999999995" x2="47.7" y2="322.29999999999995" stroke="#111" stroke-width="1.0"/>
<text x="41.6" y="325.9" font-size="10.2" font-weight="700" text-anchor="end" textLength="13.2" lengthAdjust="spacingAndGlyphs">7.5</text>
<line x1="44.6" y1="275.59999999999997" x2="47.7" y2="275.59999999999997" stroke="#111" stroke-width="1.0"/>
<text x="41.6" y="279.2" font-size="10.2" font-weight="700" text-anchor="end" textLength="18.6" lengthAdjust="spacingAndGlyphs">10.0</text>
<line x1="44.6" y1="228.89999999999998" x2="47.7" y2="228.89999999999998" stroke="#111" stroke-width="1.0"/>
<text x="41.6" y="232.5" font-size="10.2" font-weight="700" text-anchor="end" textLength="18.6" lengthAdjust="spacingAndGlyphs">12.5</text>
<line x1="136.0" y1="462.4" x2="136.0" y2="465.2" stroke="#111" stroke-width="1.0"/>
<text x="134.8" y="473.6" font-size="8.6" font-weight="700" text-anchor="middle">–1</text>
<line x1="231.0" y1="462.4" x2="231.0" y2="465.2" stroke="#111" stroke-width="1.0"/>
<text x="231.0" y="473.6" font-size="8.6" font-weight="700" text-anchor="middle">0</text>
<line x1="326.0" y1="462.4" x2="326.0" y2="465.2" stroke="#111" stroke-width="1.0"/>
<text x="326.0" y="473.6" font-size="8.6" font-weight="700" text-anchor="middle">1</text>
<line x1="421.0" y1="462.4" x2="421.0" y2="465.2" stroke="#111" stroke-width="1.0"/>
<text x="421.0" y="473.6" font-size="8.6" font-weight="700" text-anchor="middle">2</text>
<text x="231.2" y="486.2" font-size="9.4" font-weight="700" text-anchor="middle" textLength="69" lengthAdjust="spacingAndGlyphs">log2 FoldChange</text>
<text transform="translate(11.1,344) rotate(-90)" font-size="8.8" font-weight="700" text-anchor="middle" textLength="69.4" lengthAdjust="spacingAndGlyphs" fill="#111">–log10 (adj. <tspan font-style="italic">P</tspan>)</text>
<text x="394.4" y="420.0" font-size="8.8" font-weight="700" text-anchor="middle" textLength="52" lengthAdjust="spacingAndGlyphs">adj. <tspan font-style="italic">P</tspan> = 0.01</text>
<g stroke="#3c3c3c" stroke-width="0.7">
<line x1="67.5" y1="239.4" x2="71.7" y2="255.0"/>
<line x1="73.5" y1="237.4" x2="78.0" y2="238.8"/>
<line x1="118.5" y1="239.4" x2="111.0" y2="255.0"/>
<line x1="137.0" y1="239.6" x2="107.3" y2="275.4"/>
<line x1="146.6" y1="241.6" x2="143.0" y2="255.0"/>
<line x1="149.5" y1="244.2" x2="147.9" y2="275.4"/>
<line x1="163.5" y1="240.0" x2="176.7" y2="255.0"/>
<line x1="160.6" y1="254.6" x2="177.7" y2="275.4"/>
<line x1="172.2" y1="239.4" x2="181.2" y2="235.0"/>
<line x1="172.4" y1="239.4" x2="211.3" y2="234.0"/>
<line x1="172.4" y1="240.0" x2="204.5" y2="252.8"/>
<line x1="170.5" y1="239.8" x2="237.5" y2="253.0"/>
<line x1="259.6" y1="231.4" x2="291.0" y2="239.0"/>
<line x1="292.0" y1="236.0" x2="296.0" y2="239.2"/>
<line x1="294.4" y1="257.0" x2="321.0" y2="241.0"/>
<line x1="323.3" y1="254.6" x2="332.9" y2="240.2"/>
<line x1="359.2" y1="262.1" x2="366.5" y2="239.8"/>
<line x1="372.0" y1="231.4" x2="375.0" y2="239.4"/>
<line x1="413.5" y1="237.0" x2="392.8" y2="239.5"/>
<line x1="391.7" y1="256.3" x2="382.8" y2="239.8"/>
<line x1="423.5" y1="254.4" x2="407.2" y2="239.8"/>
<line x1="432.0" y1="275.6" x2="391.2" y2="240.0"/>
<line x1="465.2" y1="255.0" x2="450.6" y2="239.8"/>
</g>
<line x1="260.0" y1="241.2" x2="290.0" y2="239.9" stroke="#aaa" stroke-width="0.6"/>
<g font-size="5.9" text-anchor="middle" fill="#000">
<rect x="58.5" y="231.6" width="15.0" height="7.2" rx="1.1" fill="#fff" stroke="#6e6e6e" stroke-width="0.7"/>
<text x="66.0" y="237.3" textLength="11.0" lengthAdjust="spacingAndGlyphs" stroke="#000" stroke-width="0.18">IL11</text>
<rect x="85.7" y="233.8" width="24.3" height="7.2" rx="1.1" fill="#fff" stroke="#6e6e6e" stroke-width="0.7"/>
<text x="97.8" y="239.5" textLength="20.3" lengthAdjust="spacingAndGlyphs" stroke="#000" stroke-width="0.18">S100A6</text>
<rect x="111.0" y="231.6" width="24.5" height="7.2" rx="1.1" fill="#fff" stroke="#6e6e6e" stroke-width="0.7"/>
<text x="123.2" y="237.3" textLength="20.5" lengthAdjust="spacingAndGlyphs" stroke="#000" stroke-width="0.18">MT−TN</text>
<rect x="60.3" y="255.0" width="26.7" height="7.2" rx="1.1" fill="#fff" stroke="#6e6e6e" stroke-width="0.7"/>
<text x="73.7" y="260.7" textLength="22.7" lengthAdjust="spacingAndGlyphs" stroke="#000" stroke-width="0.18">OSGIN1</text>
<rect x="102.0" y="255.0" width="14.0" height="7.2" rx="1.1" fill="#fff" stroke="#6e6e6e" stroke-width="0.7"/>
<text x="109.0" y="260.7" textLength="10.0" lengthAdjust="spacingAndGlyphs" stroke="#000" stroke-width="0.18">FTL</text>
<rect x="89.0" y="275.4" width="30.3" height="7.2" rx="1.1" fill="#fff" stroke="#6e6e6e" stroke-width="0.7"/>
<text x="104.2" y="281.1" textLength="26.3" lengthAdjust="spacingAndGlyphs" stroke="#000" stroke-width="0.18">CTNNAL1</text>
<rect x="146.0" y="231.8" width="19.8" height="7.2" rx="1.1" fill="#fff" stroke="#6e6e6e" stroke-width="0.7"/>
<text x="155.9" y="237.5" textLength="15.8" lengthAdjust="spacingAndGlyphs" stroke="#000" stroke-width="0.18">AREG</text>
<rect x="181.2" y="228.6" width="17.3" height="7.2" rx="1.1" fill="#fff" stroke="#6e6e6e" stroke-width="0.7"/>
<text x="189.8" y="234.3" textLength="13.3" lengthAdjust="spacingAndGlyphs" stroke="#000" stroke-width="0.18">IER3</text>
<rect x="211.3" y="230.0" width="20.4" height="7.2" rx="1.1" fill="#fff" stroke="#6e6e6e" stroke-width="0.7"/>
<text x="221.5" y="235.7" textLength="16.4" lengthAdjust="spacingAndGlyphs" stroke="#000" stroke-width="0.18">NPM3</text>
<rect x="203.5" y="252.5" width="19.2" height="7.2" rx="1.1" fill="#fff" stroke="#6e6e6e" stroke-width="0.7"/>
<text x="213.1" y="258.2" textLength="15.2" lengthAdjust="spacingAndGlyphs" stroke="#000" stroke-width="0.18">DKC1</text>
<rect x="172.9" y="255.0" width="17.3" height="7.2" rx="1.1" fill="#fff" stroke="#6e6e6e" stroke-width="0.7"/>
<text x="181.6" y="260.7" textLength="13.3" lengthAdjust="spacingAndGlyphs" stroke="#000" stroke-width="0.18">GSR</text>
<rect x="131.9" y="255.0" width="16.0" height="7.2" rx="1.1" fill="#fff" stroke="#6e6e6e" stroke-width="0.7"/>
<text x="139.9" y="260.7" textLength="12.0" lengthAdjust="spacingAndGlyphs" stroke="#000" stroke-width="0.18">MET</text>
<rect x="134.4" y="275.4" width="24.1" height="7.2" rx="1.1" fill="#fff" stroke="#6e6e6e" stroke-width="0.7"/>
<text x="146.4" y="281.1" textLength="20.1" lengthAdjust="spacingAndGlyphs" stroke="#000" stroke-width="0.18">HMGA1</text>
<rect x="172.3" y="275.4" width="17.9" height="7.2" rx="1.1" fill="#fff" stroke="#6e6e6e" stroke-width="0.7"/>
<text x="181.2" y="281.1" textLength="13.9" lengthAdjust="spacingAndGlyphs" stroke="#000" stroke-width="0.18">PKP3</text>
<rect x="240.8" y="226.8" width="18.8" height="7.2" rx="1.1" fill="#fff" stroke="#6e6e6e" stroke-width="0.7"/>
<text x="250.2" y="232.5" textLength="14.8" lengthAdjust="spacingAndGlyphs" stroke="#000" stroke-width="0.18">TPM4</text>
<rect x="240.8" y="238.8" width="19.2" height="7.2" rx="1.1" fill="#fff" stroke="#6e6e6e" stroke-width="0.7"/>
<text x="250.4" y="244.5" textLength="15.2" lengthAdjust="spacingAndGlyphs" stroke="#000" stroke-width="0.18">PDXK</text>
<rect x="237.5" y="251.2" width="24.4" height="7.2" rx="1.1" fill="#fff" stroke="#6e6e6e" stroke-width="0.7"/>
<text x="249.7" y="256.9" textLength="20.4" lengthAdjust="spacingAndGlyphs" stroke="#000" stroke-width="0.18">TIMM13</text>
<rect x="273.0" y="228.6" width="19.0" height="7.2" rx="1.1" fill="#fff" stroke="#6e6e6e" stroke-width="0.7"/>
<text x="282.5" y="234.3" textLength="15.0" lengthAdjust="spacingAndGlyphs" stroke="#000" stroke-width="0.18">MYL6</text>
<rect x="274.6" y="257.0" width="22.4" height="7.2" rx="1.1" fill="#fff" stroke="#6e6e6e" stroke-width="0.7"/>
<text x="285.8" y="262.7" textLength="18.4" lengthAdjust="spacingAndGlyphs" stroke="#000" stroke-width="0.18">ACTN1</text>
<rect x="310.8" y="229.4" width="23.4" height="7.2" rx="1.1" fill="#fff" stroke="#6e6e6e" stroke-width="0.7"/>
<text x="322.5" y="235.1" textLength="19.4" lengthAdjust="spacingAndGlyphs" stroke="#000" stroke-width="0.18">ARPC5</text>
<rect x="337.7" y="231.9" width="23.1" height="7.2" rx="1.1" fill="#fff" stroke="#6e6e6e" stroke-width="0.7"/>
<text x="349.2" y="237.6" textLength="19.1" lengthAdjust="spacingAndGlyphs" stroke="#000" stroke-width="0.18">TRAM1</text>
<rect x="364.8" y="224.2" width="18.7" height="7.2" rx="1.1" fill="#fff" stroke="#6e6e6e" stroke-width="0.7"/>
<text x="374.1" y="229.9" textLength="14.7" lengthAdjust="spacingAndGlyphs" stroke="#000" stroke-width="0.18">TPM1</text>
<rect x="311.2" y="254.6" width="18.4" height="7.2" rx="1.1" fill="#fff" stroke="#6e6e6e" stroke-width="0.7"/>
<text x="320.4" y="260.3" textLength="14.4" lengthAdjust="spacingAndGlyphs" stroke="#000" stroke-width="0.18">EDIL3</text>
<rect x="343.8" y="262.1" width="28.1" height="7.2" rx="1.1" fill="#fff" stroke="#6e6e6e" stroke-width="0.7"/>
<text x="357.9" y="267.8" textLength="24.1" lengthAdjust="spacingAndGlyphs" stroke="#000" stroke-width="0.18">ANKRD1</text>
<rect x="413.5" y="232.2" width="28.2" height="7.2" rx="1.1" fill="#fff" stroke="#6e6e6e" stroke-width="0.7"/>
<text x="427.6" y="237.9" textLength="24.2" lengthAdjust="spacingAndGlyphs" stroke="#000" stroke-width="0.18">CACNG4</text>
<rect x="385.4" y="256.3" width="18.8" height="7.2" rx="1.1" fill="#fff" stroke="#6e6e6e" stroke-width="0.7"/>
<text x="394.8" y="262.0" textLength="14.8" lengthAdjust="spacingAndGlyphs" stroke="#000" stroke-width="0.18">CDH3</text>
<rect x="418.7" y="254.4" width="19.2" height="7.2" rx="1.1" fill="#fff" stroke="#6e6e6e" stroke-width="0.7"/>
<text x="428.3" y="260.1" textLength="15.2" lengthAdjust="spacingAndGlyphs" stroke="#000" stroke-width="0.18">EDN1</text>
<rect x="426.3" y="275.6" width="19.3" height="7.2" rx="1.1" fill="#fff" stroke="#6e6e6e" stroke-width="0.7"/>
<text x="436.0" y="281.3" textLength="15.3" lengthAdjust="spacingAndGlyphs" stroke="#000" stroke-width="0.18">CDH1</text>
<rect x="455.0" y="231.8" width="22.7" height="7.2" rx="1.1" fill="#fff" stroke="#6e6e6e" stroke-width="0.7"/>
<text x="466.4" y="237.5" textLength="18.7" lengthAdjust="spacingAndGlyphs" stroke="#000" stroke-width="0.18">TAGLN</text>
<rect x="461.0" y="255.0" width="17.7" height="7.2" rx="1.1" fill="#fff" stroke="#6e6e6e" stroke-width="0.7"/>
<text x="469.9" y="260.7" textLength="13.7" lengthAdjust="spacingAndGlyphs" stroke="#000" stroke-width="0.18">MYL9</text>
</g>
</g>
</svg>
</body>
</html>
